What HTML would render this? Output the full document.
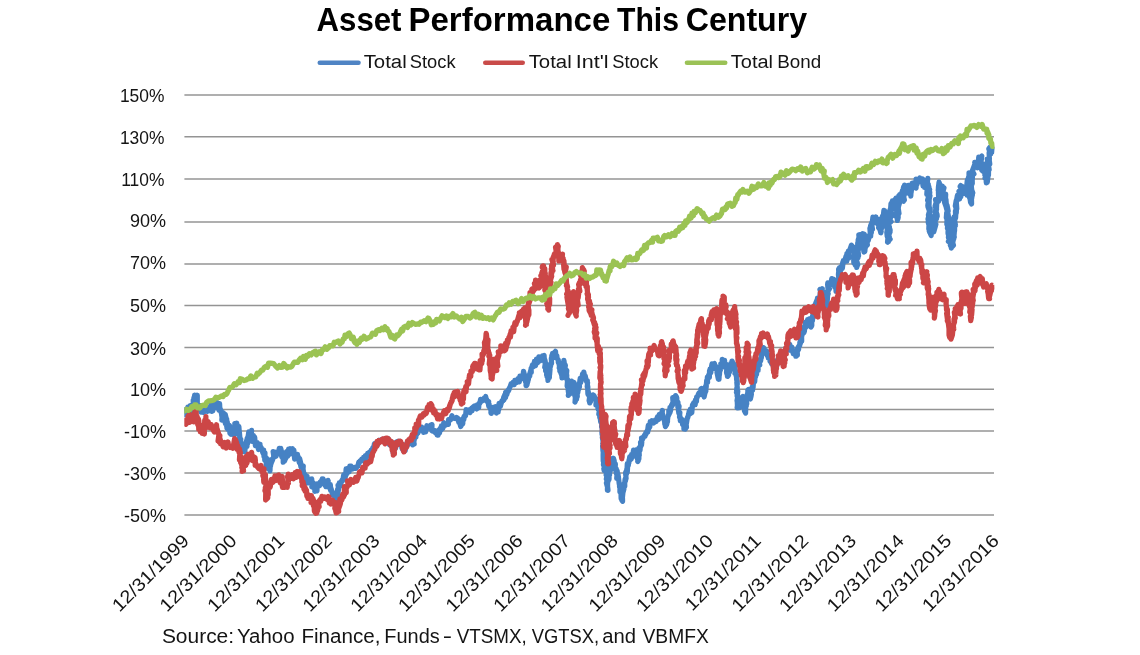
<!DOCTYPE html>
<html lang="en"><head><meta charset="utf-8"><title>Asset Performance This Century</title>
<style>html,body{margin:0;padding:0;background:#fff}body{width:1140px;height:655px;overflow:hidden}svg{display:block}text{font-family:"Liberation Sans",Arial,sans-serif}</style></head><body>
<svg width="1140" height="655" viewBox="0 0 1140 655">
<rect width="1140" height="655" fill="#fff"/>
<g stroke="#949494" stroke-width="1.5" fill="none">
<line x1="184.4" x2="994.0" y1="94.9" y2="94.9"/>
<line x1="184.4" x2="994.0" y1="136.8" y2="136.8"/>
<line x1="184.4" x2="994.0" y1="178.9" y2="178.9"/>
<line x1="184.4" x2="994.0" y1="221.9" y2="221.9"/>
<line x1="184.4" x2="994.0" y1="263.9" y2="263.9"/>
<line x1="184.4" x2="994.0" y1="305.6" y2="305.6"/>
<line x1="184.4" x2="994.0" y1="347.5" y2="347.5"/>
<line x1="184.4" x2="994.0" y1="389.3" y2="389.3"/>
<line x1="184.4" x2="994.0" y1="431.0" y2="431.0"/>
<line x1="184.4" x2="994.0" y1="473.0" y2="473.0"/>
<line x1="184.4" x2="994.0" y1="514.9" y2="514.9"/>
<line x1="184.4" x2="994.0" y1="409.6" y2="409.6"/>
</g>
<g font-size="18.4" text-anchor="end" fill="#141414">
<text transform="translate(164.4 101.5) scale(0.945 1)">150%</text>
<text transform="translate(164.4 144.2) scale(0.945 1)">130%</text>
<text transform="translate(164.4 185.5) scale(0.945 1)">110%</text>
<text transform="translate(166.0 227.3) scale(0.979 1)">90%</text>
<text transform="translate(166.0 269.3) scale(0.979 1)">70%</text>
<text transform="translate(166.0 311.9) scale(0.979 1)">50%</text>
<text transform="translate(166.0 354.7) scale(0.979 1)">30%</text>
<text transform="translate(166.0 396.3) scale(0.979 1)">10%</text>
<text transform="translate(166.0 438.4) scale(0.979 1)">-10%</text>
<text transform="translate(166.0 479.8) scale(0.979 1)">-30%</text>
<text transform="translate(166.0 521.7) scale(0.979 1)">-50%</text>
</g>
<g font-size="18.2" text-anchor="end" fill="#141414">
<text transform="translate(190.2 542) rotate(-45) scale(1.098 1)">12/31/1999</text>
<text transform="translate(237.8 542) rotate(-45) scale(1.098 1)">12/31/2000</text>
<text transform="translate(285.5 542) rotate(-45) scale(1.098 1)">12/31/2001</text>
<text transform="translate(333.1 542) rotate(-45) scale(1.098 1)">12/31/2002</text>
<text transform="translate(380.8 542) rotate(-45) scale(1.098 1)">12/31/2003</text>
<text transform="translate(428.4 542) rotate(-45) scale(1.098 1)">12/31/2004</text>
<text transform="translate(476.1 542) rotate(-45) scale(1.098 1)">12/31/2005</text>
<text transform="translate(523.8 542) rotate(-45) scale(1.098 1)">12/31/2006</text>
<text transform="translate(571.4 542) rotate(-45) scale(1.098 1)">12/31/2007</text>
<text transform="translate(619.0 542) rotate(-45) scale(1.098 1)">12/31/2008</text>
<text transform="translate(666.7 542) rotate(-45) scale(1.098 1)">12/31/2009</text>
<text transform="translate(714.3 542) rotate(-45) scale(1.098 1)">12/31/2010</text>
<text transform="translate(762.0 542) rotate(-45) scale(1.098 1)">12/31/2011</text>
<text transform="translate(809.6 542) rotate(-45) scale(1.098 1)">12/31/2012</text>
<text transform="translate(857.3 542) rotate(-45) scale(1.098 1)">12/31/2013</text>
<text transform="translate(905.0 542) rotate(-45) scale(1.098 1)">12/31/2014</text>
<text transform="translate(952.6 542) rotate(-45) scale(1.098 1)">12/31/2015</text>
<text transform="translate(1000.2 542) rotate(-45) scale(1.098 1)">12/31/2016</text>
</g>
<defs><clipPath id="plot"><rect x="184.3" y="70" width="810.2" height="460"/></clipPath></defs>
<g clip-path="url(#plot)">
<path d="M183.2 412.4 L184.4 414.7 L185.6 409.5 L186.7 414.0 L187.8 407.2 L189.1 411.3 L190.5 412.5 L190.2 405.6 L190.9 409.4 L191.7 406.4 L193.5 404.0 L193.2 408.7 L193.2 400.3 L194.6 408.4 L193.9 397.6 L195.3 402.9 L195.0 401.9 L194.6 395.2 L196.1 401.2 L197.3 395.2 L197.3 405.4 L196.4 402.0 L198.2 408.5 L197.6 407.4 L198.7 407.8 L200.1 405.4 L200.9 412.1 L201.3 412.1 L202.5 406.5 L203.6 412.5 L205.5 407.9 L206.6 408.8 L207.3 411.4 L208.6 407.5 L210.0 410.7 L211.1 403.3 L211.6 411.4 L212.7 410.9 L214.6 404.5 L215.5 407.3 L215.5 401.6 L217.2 405.9 L217.1 402.5 L218.9 410.1 L219.6 403.7 L219.8 407.5 L221.0 412.3 L221.0 410.4 L221.5 414.0 L222.0 417.4 L221.8 420.2 L223.3 412.7 L222.2 418.8 L223.3 420.2 L225.3 414.5 L226.1 419.3 L224.8 415.4 L225.3 423.7 L225.8 416.2 L226.7 426.6 L226.7 419.1 L226.9 427.9 L227.1 422.3 L227.3 422.0 L227.8 429.3 L229.5 425.3 L229.9 433.4 L230.8 431.8 L231.0 434.4 L232.7 429.8 L233.5 430.8 L233.4 427.3 L234.3 435.3 L235.1 428.0 L234.8 432.8 L234.8 423.6 L236.6 427.8 L236.8 423.2 L237.3 429.8 L237.1 427.7 L237.1 433.7 L238.9 426.6 L239.4 433.6 L239.4 432.0 L240.0 439.1 L239.0 439.3 L240.8 439.3 L239.9 442.2 L239.6 436.8 L240.8 444.8 L241.2 444.0 L241.8 447.2 L241.7 447.1 L242.2 444.3 L243.4 450.9 L244.0 443.9 L243.3 451.7 L245.1 446.8 L244.8 451.6 L245.7 443.3 L246.1 441.5 L247.0 446.4 L247.1 438.7 L247.7 443.3 L247.4 438.5 L247.9 436.6 L247.7 439.3 L248.6 433.2 L248.8 432.0 L250.5 432.4 L250.4 435.8 L251.6 430.3 L251.4 433.6 L252.0 441.4 L253.5 435.6 L254.5 441.8 L254.7 437.1 L255.4 445.7 L257.1 446.1 L257.2 442.6 L258.5 449.5 L260.0 444.3 L259.8 445.1 L261.9 450.0 L261.1 447.4 L263.0 453.2 L263.7 450.0 L264.0 456.8 L264.2 455.9 L265.0 452.9 L264.7 460.2 L265.1 459.6 L265.7 461.3 L266.6 458.4 L266.4 457.9 L266.2 466.5 L266.7 461.9 L268.1 468.6 L267.2 461.8 L269.1 462.6 L269.8 466.0 L270.0 471.0 L270.2 464.5 L270.6 465.7 L270.0 467.4 L271.1 459.5 L270.8 464.3 L272.1 460.7 L272.0 461.3 L273.8 456.3 L273.1 451.5 L274.3 456.3 L274.9 452.1 L276.1 456.3 L277.4 452.3 L278.3 453.2 L279.3 448.4 L281.2 450.3 L280.8 448.5 L281.7 456.6 L281.7 451.8 L282.3 457.6 L283.3 452.9 L283.2 462.2 L284.2 457.1 L284.5 461.2 L285.3 459.0 L285.8 458.3 L286.7 451.6 L287.7 456.2 L288.6 449.2 L289.8 454.3 L290.0 448.7 L291.3 451.2 L292.4 448.7 L292.9 453.0 L293.9 450.3 L294.6 459.1 L295.6 454.8 L297.3 456.7 L297.5 454.3 L297.5 455.4 L298.8 457.9 L299.2 462.5 L299.6 458.5 L301.0 464.1 L300.5 464.8 L301.0 467.1 L301.2 465.9 L302.5 468.2 L303.3 465.9 L302.8 472.2 L303.0 468.7 L303.8 473.4 L305.2 475.2 L304.9 476.9 L305.6 478.5 L305.0 474.5 L305.0 481.0 L307.0 476.2 L306.4 477.3 L306.6 483.1 L308.2 478.7 L308.6 482.8 L310.5 481.5 L310.9 479.1 L311.7 478.9 L312.3 484.6 L311.8 486.6 L313.0 482.7 L312.4 487.2 L313.3 486.4 L315.0 485.0 L314.8 491.4 L315.2 489.6 L317.0 490.8 L317.0 483.9 L317.0 487.1 L318.4 484.2 L319.5 485.7 L320.1 482.2 L321.0 481.3 L321.0 483.5 L322.2 478.9 L322.9 482.2 L323.0 478.8 L324.7 484.9 L324.3 483.6 L325.8 486.6 L326.9 484.4 L328.1 481.1 L328.0 480.3 L328.7 487.1 L330.7 488.6 L330.3 484.5 L330.5 490.1 L331.1 488.5 L331.8 491.6 L332.6 495.2 L333.1 494.1 L333.5 493.5 L334.9 492.9 L335.0 498.6 L335.6 497.1 L336.2 499.6 L337.4 492.5 L337.9 497.6 L337.5 489.4 L337.7 494.6 L338.7 488.6 L338.0 485.3 L338.6 488.6 L339.3 482.9 L340.7 484.7 L340.7 485.7 L340.6 485.4 L341.5 481.2 L342.6 479.4 L342.4 481.0 L342.9 479.8 L343.7 474.9 L344.9 478.2 L345.4 473.6 L344.2 474.8 L345.6 476.4 L346.1 468.8 L346.8 473.9 L347.8 468.4 L349.1 471.9 L349.8 466.1 L351.0 466.2 L352.6 468.9 L353.9 467.6 L355.3 467.3 L355.8 468.4 L357.0 466.9 L357.8 466.4 L358.8 462.1 L358.8 463.9 L360.0 461.0 L361.3 460.2 L361.7 459.1 L363.2 460.8 L363.6 457.4 L365.5 459.7 L365.5 455.5 L366.8 457.2 L367.6 453.5 L368.8 455.9 L369.6 452.2 L370.3 454.4 L371.0 450.5 L371.8 451.3 L372.9 447.6 L372.7 449.5 L374.0 446.7 L374.3 444.2 L374.5 443.7 L375.6 444.7 L377.4 445.0 L378.1 443.8 L378.9 440.3 L379.7 441.5 L381.3 439.8 L382.1 441.2 L383.2 439.2 L384.4 441.6 L385.6 442.0 L386.8 438.6 L388.0 438.6 L388.5 442.6 L389.3 444.5 L389.8 440.9 L391.4 442.3 L391.1 443.9 L391.9 447.1 L391.5 446.0 L392.4 447.7 L393.2 451.1 L392.8 448.6 L393.2 453.0 L393.6 451.8 L393.9 447.9 L394.0 449.8 L395.6 448.2 L395.5 444.3 L395.8 446.8 L395.6 442.4 L397.4 441.4 L399.0 441.6 L399.9 441.3 L400.4 445.0 L401.0 445.1 L401.6 444.1 L402.0 448.6 L402.4 446.5 L403.5 451.0 L404.0 449.2 L405.2 450.6 L405.8 446.5 L406.4 444.0 L407.1 446.1 L408.0 443.6 L408.7 441.6 L409.8 443.6 L411.6 442.0 L412.8 444.9 L413.3 441.0 L414.2 444.0 L413.8 442.0 L414.8 437.3 L414.8 435.7 L415.0 435.8 L415.9 437.1 L416.0 433.3 L417.0 434.1 L418.4 431.2 L418.1 432.6 L418.6 431.0 L420.0 427.1 L421.4 430.1 L421.8 427.2 L423.4 430.9 L423.6 432.4 L425.4 429.5 L425.7 431.9 L426.3 428.2 L426.9 425.7 L428.3 426.7 L429.7 428.3 L430.9 424.9 L432.0 424.6 L431.9 430.7 L433.2 431.2 L434.3 430.5 L435.3 432.6 L436.1 431.7 L437.0 434.8 L438.1 433.4 L438.1 435.2 L438.6 430.0 L439.5 433.0 L440.3 428.3 L441.2 429.9 L441.4 425.9 L442.6 428.7 L443.6 426.5 L443.7 422.7 L445.5 425.2 L447.0 423.9 L448.4 424.4 L448.5 419.6 L449.9 419.2 L450.6 419.7 L452.0 415.6 L452.6 417.8 L454.6 418.4 L456.1 418.6 L456.7 417.5 L458.3 418.8 L458.7 422.3 L459.7 421.5 L460.6 424.2 L459.9 423.5 L460.7 426.5 L461.9 424.3 L461.5 422.6 L461.5 423.5 L462.8 423.7 L462.9 418.8 L463.8 419.7 L464.3 416.1 L463.9 416.9 L464.6 416.6 L465.6 415.6 L466.1 409.7 L467.3 412.4 L468.6 410.1 L470.1 412.5 L470.5 411.6 L471.7 408.1 L472.1 410.6 L472.8 407.3 L474.6 405.9 L475.8 408.0 L476.6 409.0 L477.3 405.0 L478.7 407.6 L478.9 403.6 L479.8 403.6 L480.6 399.3 L481.5 401.3 L482.6 400.6 L484.0 398.3 L484.8 399.3 L485.7 396.5 L486.2 400.3 L486.5 399.1 L487.7 402.5 L488.6 401.4 L488.1 402.1 L488.8 406.4 L489.1 403.8 L489.2 405.7 L490.7 409.7 L491.1 408.5 L490.9 412.8 L491.4 411.5 L491.4 413.3 L491.8 411.7 L492.5 410.3 L493.1 408.5 L493.0 409.9 L493.0 407.3 L494.0 407.8 L495.3 406.7 L495.4 410.8 L496.6 409.4 L496.5 413.1 L498.1 409.8 L498.2 411.9 L498.2 406.9 L498.8 409.6 L499.0 403.4 L499.8 404.1 L500.4 406.2 L501.2 403.4 L502.1 400.6 L503.2 400.6 L503.7 397.1 L504.0 399.9 L504.6 395.0 L505.6 397.5 L505.6 392.4 L506.8 394.7 L507.8 390.3 L507.9 391.8 L509.0 389.7 L509.2 388.3 L510.0 387.0 L511.2 383.6 L512.4 384.7 L513.0 382.3 L514.2 384.6 L514.8 380.3 L516.7 382.3 L518.0 378.7 L519.3 381.9 L519.9 376.1 L520.8 376.6 L522.3 376.5 L522.7 378.5 L523.1 375.7 L523.5 371.3 L524.9 376.4 L523.9 377.0 L525.5 375.9 L525.4 380.0 L525.0 378.3 L525.6 382.1 L526.3 379.7 L526.0 385.6 L527.2 383.7 L527.0 384.7 L526.6 385.4 L527.8 381.6 L527.9 380.9 L527.6 379.2 L528.2 380.2 L528.8 377.4 L529.6 374.1 L529.8 374.0 L529.8 375.8 L529.7 374.0 L531.1 369.3 L531.3 372.4 L531.1 368.3 L531.8 367.4 L532.5 364.8 L533.6 366.6 L534.1 365.9 L534.4 361.4 L535.5 365.7 L536.5 360.9 L536.5 359.2 L537.6 362.8 L538.1 360.0 L538.8 356.8 L540.2 360.9 L541.4 358.2 L541.3 360.2 L542.5 355.8 L542.5 357.8 L543.0 356.3 L544.1 355.4 L544.4 360.4 L543.9 357.2 L544.6 361.9 L544.8 359.5 L545.2 361.3 L545.4 362.7 L544.7 367.3 L545.7 366.5 L545.6 370.9 L545.8 371.4 L546.8 369.4 L546.6 375.1 L547.0 371.7 L547.0 376.3 L547.3 374.7 L547.6 376.1 L548.0 380.4 L548.0 380.5 L548.3 374.1 L549.4 377.8 L549.4 375.6 L549.6 374.6 L550.1 368.8 L549.9 370.6 L549.8 367.4 L549.7 369.0 L549.7 364.6 L550.5 366.5 L551.3 362.2 L551.6 363.3 L551.3 358.2 L551.7 358.5 L551.8 355.3 L553.2 358.0 L552.6 353.3 L553.7 357.3 L553.6 354.2 L555.5 351.3 L555.9 356.6 L556.8 355.6 L557.1 358.4 L558.3 360.1 L558.3 362.6 L558.2 360.2 L559.1 364.7 L559.1 362.2 L559.7 364.2 L559.2 368.1 L560.4 366.2 L559.8 371.0 L560.2 369.1 L560.9 373.3 L561.0 370.7 L561.5 375.0 L561.7 374.0 L562.0 378.0 L562.3 374.3 L561.7 373.3 L562.2 375.8 L562.8 370.2 L562.3 369.9 L562.4 371.8 L562.1 365.5 L562.7 369.1 L563.3 364.1 L563.9 366.6 L563.9 360.4 L564.3 363.2 L564.0 362.5 L563.5 366.8 L565.0 366.7 L565.4 365.3 L564.9 369.3 L565.0 367.3 L566.2 372.9 L565.5 371.3 L566.8 370.4 L566.3 376.0 L566.8 375.0 L566.6 378.9 L566.9 379.3 L567.4 381.0 L567.6 379.5 L567.5 380.7 L567.1 386.2 L567.7 385.9 L567.4 384.8 L568.8 390.2 L568.0 388.0 L568.4 392.3 L568.9 392.0 L568.3 395.5 L569.6 393.6 L569.9 393.9 L569.8 392.7 L570.0 387.5 L570.0 390.3 L570.1 386.0 L570.7 387.4 L571.0 383.3 L570.7 383.9 L571.5 381.1 L572.4 384.0 L573.1 385.1 L574.0 382.4 L574.6 386.4 L574.3 385.3 L574.5 390.4 L574.7 387.8 L574.2 392.7 L575.0 391.5 L574.9 392.3 L575.2 397.2 L574.4 394.0 L575.5 394.8 L575.1 400.9 L576.1 399.0 L575.0 402.0 L576.5 397.8 L575.5 396.0 L576.6 399.2 L576.1 392.8 L577.3 396.7 L577.1 391.6 L577.8 392.6 L578.2 389.7 L577.5 387.9 L578.9 388.8 L578.3 384.6 L579.5 387.0 L579.3 383.3 L579.5 383.5 L580.0 379.5 L580.7 382.7 L580.2 378.3 L580.8 378.9 L581.9 377.8 L582.6 373.8 L583.4 376.8 L583.8 372.0 L584.7 376.4 L585.2 377.7 L585.4 376.1 L585.6 380.4 L585.6 377.7 L586.9 382.2 L587.3 380.8 L586.9 380.8 L587.6 382.6 L587.2 386.7 L587.4 384.7 L587.9 387.2 L587.8 387.6 L587.7 389.0 L587.9 394.2 L588.2 391.2 L589.2 396.6 L589.4 395.1 L589.8 398.1 L589.7 396.6 L589.1 400.7 L589.3 399.9 L589.7 403.0 L591.1 399.3 L590.6 401.6 L592.2 396.0 L592.2 398.2 L593.0 394.9 L594.0 398.6 L594.0 395.7 L594.8 397.3 L596.4 399.2 L595.9 405.0 L597.4 401.6 L596.6 405.0 L597.2 402.8 L598.0 408.9 L598.6 408.6 L598.5 407.3 L599.6 408.7 L598.8 414.2 L600.0 411.0 L599.5 413.2 L599.8 417.8 L601.3 414.1 L600.5 420.6 L600.4 417.5 L600.6 422.0 L600.9 421.6 L602.2 420.1 L601.8 421.8 L601.6 427.2 L601.7 426.7 L602.3 425.4 L602.9 431.5 L602.2 428.6 L602.1 434.8 L601.9 432.2 L602.9 434.2 L602.9 434.7 L603.0 439.3 L602.3 437.3 L603.1 441.8 L602.7 443.5 L603.6 440.6 L603.5 447.3 L603.3 447.7 L602.6 445.8 L602.9 450.3 L603.0 451.3 L603.3 449.7 L603.1 455.2 L603.8 453.3 L604.2 456.1 L603.1 455.5 L603.2 461.0 L603.2 458.4 L603.7 461.8 L603.4 464.9 L604.6 461.6 L604.7 465.9 L604.8 464.9 L604.8 468.7 L604.2 470.6 L603.8 468.8 L604.4 469.3 L606.0 468.9 L605.8 465.0 L605.7 465.3 L606.0 471.6 L606.6 467.2 L606.9 474.1 L607.0 470.1 L606.1 474.9 L606.9 476.3 L606.3 479.0 L607.3 476.1 L607.0 477.8 L606.8 478.4 L607.0 483.8 L607.0 480.4 L607.2 486.2 L606.4 483.0 L607.5 484.4 L607.4 490.0 L607.6 489.1 L608.0 490.3 L607.8 488.3 L607.6 487.1 L607.6 481.6 L607.6 483.7 L608.0 479.8 L608.2 481.3 L608.1 477.0 L609.0 479.6 L609.1 477.8 L608.9 474.1 L609.6 474.9 L609.0 470.8 L609.5 473.9 L610.5 469.0 L610.9 466.2 L611.0 469.7 L610.6 464.6 L611.1 467.2 L611.9 460.4 L612.4 460.6 L612.9 463.6 L612.6 458.4 L613.3 459.5 L613.5 458.3 L614.6 463.7 L613.9 459.7 L614.2 460.9 L614.7 466.7 L615.4 464.1 L615.1 468.1 L615.4 469.9 L616.3 468.8 L616.1 472.7 L616.9 474.9 L617.3 471.1 L616.7 478.4 L618.0 474.1 L618.6 478.8 L618.4 476.7 L619.1 482.9 L619.2 483.9 L619.5 484.0 L619.5 486.5 L620.4 485.1 L620.7 488.9 L620.0 487.0 L619.9 491.8 L620.7 488.4 L621.3 495.2 L621.6 491.2 L621.0 493.1 L621.1 498.5 L621.7 495.4 L621.9 500.3 L622.6 501.3 L622.5 498.0 L622.3 499.0 L622.4 498.0 L622.9 492.9 L622.4 494.2 L622.4 491.6 L623.2 491.8 L623.9 489.1 L623.4 490.2 L623.5 484.3 L624.0 485.4 L624.8 486.3 L624.7 482.2 L624.6 483.6 L625.1 479.0 L625.5 481.0 L625.9 476.4 L626.1 478.5 L625.6 472.4 L625.7 475.1 L626.5 470.4 L626.7 473.8 L626.8 469.1 L627.3 472.1 L627.6 467.2 L627.1 467.7 L627.3 463.6 L628.1 465.5 L628.3 465.4 L629.1 459.6 L628.9 462.8 L629.7 456.8 L630.4 459.7 L631.3 458.8 L631.5 454.7 L632.4 457.0 L632.8 455.3 L633.5 450.0 L634.8 454.2 L636.1 449.8 L636.5 453.6 L635.9 452.2 L636.8 457.4 L637.4 454.3 L637.6 458.7 L636.8 457.2 L638.2 460.9 L637.7 461.5 L638.5 458.3 L638.9 459.0 L638.9 455.7 L638.4 456.8 L638.9 453.1 L639.3 455.4 L638.9 448.1 L640.1 447.9 L639.6 447.1 L640.1 450.1 L640.3 445.5 L640.9 446.2 L640.5 442.3 L641.5 445.2 L641.8 442.3 L641.5 437.9 L642.7 437.6 L642.5 439.3 L643.4 437.4 L644.7 434.8 L645.0 436.3 L645.8 432.8 L646.1 434.1 L647.0 431.0 L647.7 432.1 L647.5 431.3 L648.3 425.3 L648.6 429.6 L649.0 425.1 L649.8 427.0 L650.2 421.6 L650.7 423.2 L651.8 420.7 L653.6 422.9 L655.1 420.3 L656.1 421.5 L657.4 417.0 L657.7 418.9 L658.6 419.4 L659.2 414.5 L660.4 417.5 L660.3 413.8 L661.1 414.1 L661.9 412.4 L662.4 410.4 L662.1 415.2 L662.6 413.9 L662.8 417.4 L663.1 416.9 L663.3 417.8 L663.9 419.4 L664.7 421.8 L664.5 420.3 L664.8 424.4 L666.2 425.4 L665.4 426.6 L666.7 423.7 L666.8 424.5 L667.0 419.9 L666.9 419.8 L667.5 422.0 L667.5 421.3 L667.5 419.9 L668.1 415.4 L669.4 413.0 L668.8 414.9 L668.8 410.5 L669.8 413.1 L670.8 409.8 L670.0 407.5 L670.4 409.4 L671.6 405.0 L671.2 406.9 L672.5 405.2 L672.4 403.3 L673.2 403.9 L672.7 397.7 L673.3 401.1 L674.6 398.4 L674.0 397.5 L675.6 396.4 L675.6 395.5 L676.1 396.4 L676.4 396.6 L676.8 398.0 L676.8 402.9 L676.8 400.8 L678.0 402.4 L677.8 407.2 L678.5 405.0 L678.4 408.6 L679.1 406.3 L678.4 411.0 L678.4 408.9 L678.8 413.3 L678.8 411.5 L679.9 412.6 L679.5 417.0 L679.8 415.6 L680.3 420.8 L681.2 418.6 L682.3 421.2 L682.4 419.8 L682.6 424.6 L683.3 425.0 L683.9 423.8 L683.9 428.8 L685.1 428.7 L685.3 429.1 L684.7 425.0 L685.5 428.4 L686.5 427.3 L686.0 422.4 L686.4 423.7 L687.1 419.4 L687.2 418.8 L687.3 417.8 L688.0 416.4 L687.7 417.8 L688.7 413.9 L689.2 411.1 L689.1 413.0 L690.2 411.0 L690.6 413.6 L690.6 411.2 L690.4 409.2 L691.8 412.7 L692.2 407.9 L691.9 410.2 L692.5 404.9 L692.7 406.2 L693.6 402.9 L694.3 404.3 L695.2 404.6 L695.4 400.0 L696.5 401.4 L696.6 397.2 L696.6 398.7 L698.0 395.1 L698.3 394.3 L698.9 393.0 L700.2 394.5 L700.9 391.3 L700.8 389.0 L701.5 388.4 L702.6 393.2 L702.4 394.5 L703.1 395.1 L703.8 395.7 L704.1 397.0 L704.8 393.8 L705.4 392.0 L704.4 393.3 L705.3 388.5 L705.9 391.2 L705.5 386.3 L706.3 386.6 L705.9 388.8 L706.3 385.7 L706.2 386.0 L706.7 380.3 L706.6 381.9 L707.6 382.4 L707.3 377.0 L707.6 380.0 L708.7 374.9 L709.4 377.4 L709.5 370.9 L709.6 373.9 L710.0 369.2 L710.8 372.8 L711.2 367.8 L711.1 368.7 L712.0 363.9 L712.4 366.5 L713.0 364.8 L714.5 363.6 L714.8 368.6 L715.5 365.9 L716.6 368.3 L716.5 367.1 L717.1 371.4 L717.4 374.0 L717.3 371.2 L717.5 374.7 L717.0 372.6 L718.3 379.0 L718.0 375.4 L718.4 378.6 L718.6 376.9 L719.0 379.3 L719.3 373.3 L719.1 376.3 L719.5 374.5 L719.8 369.5 L719.1 372.9 L720.4 370.0 L720.0 368.7 L720.8 365.1 L721.3 367.2 L720.8 363.8 L721.4 366.0 L722.4 364.8 L722.2 359.4 L723.2 360.9 L723.9 360.2 L724.6 360.3 L724.7 366.5 L724.4 364.1 L725.1 366.7 L726.3 364.3 L725.6 367.7 L726.9 366.9 L726.5 372.5 L727.1 374.5 L727.6 371.8 L727.4 376.5 L728.5 375.2 L728.2 375.4 L728.7 372.9 L728.6 369.4 L729.3 372.4 L730.5 369.7 L729.9 370.0 L730.5 367.8 L730.7 363.5 L732.0 365.8 L732.0 361.0 L732.9 362.8 L732.6 362.3 L733.2 366.8 L734.7 364.6 L735.2 368.1 L734.9 370.0 L734.8 368.6 L735.7 372.6 L735.0 373.5 L736.3 371.5 L736.1 375.9 L736.7 374.9 L736.3 375.9 L737.0 380.5 L736.5 378.9 L737.2 382.7 L737.2 381.2 L737.3 384.4 L736.8 382.4 L737.3 388.0 L736.9 389.8 L736.9 387.4 L736.4 392.4 L737.1 389.1 L737.0 394.3 L737.8 391.3 L737.1 396.1 L737.3 393.8 L737.8 396.3 L737.0 400.8 L737.7 401.9 L737.9 399.2 L737.2 400.9 L737.4 405.5 L737.1 407.8 L737.8 407.8 L739.3 407.7 L739.9 406.2 L739.8 404.8 L740.6 401.4 L741.6 403.2 L741.8 397.9 L741.6 400.2 L741.8 398.9 L742.9 396.4 L742.3 401.4 L743.2 404.2 L742.6 404.3 L742.8 403.4 L743.8 403.0 L744.0 408.1 L744.0 407.2 L745.0 410.6 L745.1 408.0 L744.4 410.8 L745.6 413.1 L745.7 407.6 L744.9 405.6 L745.6 407.3 L745.8 402.8 L746.3 406.1 L745.6 401.2 L746.8 403.9 L746.4 399.2 L746.2 396.6 L746.6 398.0 L747.1 395.2 L747.7 392.9 L747.9 394.4 L747.8 390.3 L748.5 392.6 L749.1 390.5 L748.4 389.4 L748.5 395.5 L749.3 392.5 L749.7 393.4 L749.7 398.1 L750.4 399.0 L751.4 394.3 L750.9 396.9 L751.0 393.4 L751.2 395.4 L751.5 389.2 L752.1 389.3 L752.1 387.1 L752.6 390.2 L752.6 387.2 L753.1 387.5 L753.5 381.8 L753.4 382.9 L754.3 379.8 L754.7 381.8 L755.0 377.9 L755.4 374.9 L755.5 377.1 L756.3 373.1 L756.6 372.1 L756.6 374.0 L756.4 372.3 L757.2 371.1 L757.9 366.2 L758.2 370.4 L757.6 365.3 L758.0 365.7 L758.2 361.3 L759.8 365.1 L759.6 363.8 L759.4 359.5 L760.7 360.8 L761.1 356.9 L761.4 358.0 L761.4 353.7 L761.9 355.5 L762.2 350.5 L763.3 352.4 L763.6 347.6 L765.1 350.6 L765.9 353.2 L766.6 351.0 L766.9 352.9 L767.6 356.2 L768.5 354.5 L768.3 358.0 L769.8 357.1 L770.0 361.4 L770.5 359.8 L771.4 358.5 L771.5 363.4 L773.1 362.8 L773.5 367.5 L773.6 364.8 L774.5 365.3 L774.6 370.6 L774.6 371.4 L775.8 367.8 L775.9 368.3 L776.5 364.4 L776.7 366.5 L776.6 365.3 L777.0 360.7 L778.5 362.6 L779.2 358.7 L779.8 361.3 L779.6 357.6 L780.8 357.3 L781.5 358.9 L782.1 356.5 L783.0 357.4 L782.9 352.8 L784.4 355.1 L784.7 354.3 L785.7 348.4 L785.8 351.2 L787.0 349.7 L787.9 344.9 L789.3 350.0 L789.8 344.4 L790.4 349.3 L791.7 350.7 L791.9 347.0 L792.1 349.8 L793.3 353.6 L793.6 350.9 L795.0 351.4 L795.8 356.2 L796.4 356.1 L796.9 352.4 L796.5 355.4 L797.4 355.1 L797.2 348.9 L798.6 349.4 L797.7 350.6 L799.3 345.5 L798.3 347.0 L799.8 345.5 L799.8 342.4 L800.6 341.5 L800.5 343.3 L800.4 338.1 L801.7 341.2 L801.6 335.5 L801.6 336.9 L802.4 333.6 L803.0 332.1 L802.7 331.4 L803.9 332.6 L804.0 327.0 L804.4 331.6 L804.8 326.0 L805.6 327.7 L805.0 322.4 L806.5 323.4 L806.9 324.9 L807.6 319.5 L807.8 322.0 L809.5 320.2 L809.3 318.8 L809.3 323.3 L810.3 323.3 L810.9 324.7 L810.5 326.9 L811.0 327.1 L811.2 322.5 L811.8 325.8 L811.8 324.2 L811.6 318.6 L812.4 321.0 L813.0 315.6 L813.2 313.6 L812.2 317.5 L813.3 313.7 L813.3 315.0 L813.9 309.0 L814.2 312.4 L814.8 308.2 L814.8 309.5 L814.8 305.0 L814.7 306.3 L816.0 302.4 L817.4 299.1 L818.0 301.3 L817.2 302.9 L817.5 298.0 L818.3 302.1 L819.4 299.9 L820.3 295.1 L819.7 297.7 L820.6 290.0 L819.9 289.5 L821.2 292.7 L822.3 288.7 L821.5 294.0 L822.7 291.1 L822.6 296.2 L824.3 292.8 L822.9 300.7 L824.2 296.9 L824.5 301.8 L826.2 296.1 L826.7 305.4 L827.0 306.0 L825.0 303.6 L824.7 303.4 L826.3 302.5 L827.6 296.3 L827.2 301.8 L826.8 296.0 L827.0 297.6 L828.2 293.7 L826.2 295.4 L827.7 290.9 L828.4 288.2 L829.5 288.8 L828.2 290.7 L827.6 284.6 L827.8 282.8 L828.6 283.6 L829.7 285.5 L831.7 281.6 L830.7 284.3 L831.8 278.6 L832.7 281.4 L833.5 279.2 L833.3 284.5 L833.0 281.3 L834.7 287.1 L834.5 283.9 L835.9 283.2 L836.0 291.2 L836.1 288.3 L836.9 286.2 L835.6 285.5 L837.0 289.0 L836.8 282.4 L836.1 284.5 L836.9 280.1 L837.6 284.1 L836.2 280.5 L838.9 279.1 L838.4 274.6 L838.6 272.3 L838.8 273.6 L838.6 269.3 L839.3 268.0 L839.0 271.5 L840.3 271.9 L841.4 266.6 L841.5 269.2 L842.8 262.1 L842.4 268.2 L843.2 261.8 L843.3 260.6 L842.8 263.9 L845.1 259.4 L844.6 260.9 L846.1 256.0 L846.8 261.1 L846.9 253.7 L848.6 258.4 L848.4 251.0 L848.4 252.8 L848.8 252.8 L851.2 245.8 L852.2 250.8 L853.1 248.3 L851.5 245.1 L854.0 250.5 L852.3 248.5 L854.6 253.3 L853.8 251.1 L854.6 252.4 L854.4 259.6 L855.4 252.6 L853.6 255.3 L853.8 262.8 L854.5 263.3 L855.3 265.1 L855.7 261.5 L856.9 266.7 L857.4 264.9 L855.8 261.9 L856.7 267.5 L855.9 260.2 L857.8 264.8 L857.3 262.9 L856.3 259.7 L855.8 254.8 L857.8 258.1 L856.8 256.5 L857.8 248.7 L858.6 255.8 L856.1 248.0 L857.9 251.4 L856.4 246.8 L858.8 249.1 L858.4 242.1 L857.7 243.1 L857.7 247.1 L858.2 239.5 L859.5 242.5 L858.8 234.8 L860.2 234.7 L858.7 238.3 L861.2 237.2 L862.6 233.7 L864.2 234.3 L864.6 239.6 L864.1 238.3 L863.7 244.9 L863.0 240.2 L865.3 241.1 L865.3 247.3 L863.2 245.2 L863.9 252.1 L865.8 245.5 L864.5 251.7 L864.1 247.5 L864.9 251.1 L865.1 242.4 L864.7 247.1 L867.4 245.0 L866.6 239.6 L866.6 244.6 L867.4 241.7 L866.8 236.2 L868.3 240.4 L869.4 235.6 L870.7 234.3 L870.7 236.0 L869.9 228.2 L870.4 235.2 L871.4 232.3 L871.6 225.0 L872.5 229.2 L871.5 223.3 L870.9 227.6 L870.6 225.7 L873.0 219.7 L872.3 222.8 L872.9 217.1 L873.5 220.7 L875.4 218.8 L875.9 217.0 L876.1 223.0 L876.7 218.7 L877.4 223.5 L879.4 226.8 L877.8 221.1 L880.2 222.4 L880.5 229.4 L878.6 227.8 L881.2 231.3 L880.8 232.8 L879.0 225.4 L882.0 227.8 L881.6 223.7 L879.9 219.3 L882.5 226.4 L882.3 217.7 L882.5 216.0 L881.9 219.4 L883.4 214.9 L883.0 218.8 L883.9 210.3 L885.3 214.7 L884.7 210.9 L885.2 220.6 L886.7 220.5 L886.2 221.7 L885.8 218.7 L886.2 220.3 L887.2 224.4 L888.1 222.4 L888.6 226.7 L887.1 226.0 L887.3 231.3 L888.4 232.4 L888.1 229.3 L888.4 235.2 L887.1 230.3 L887.2 236.4 L886.8 232.1 L888.5 241.7 L889.3 236.5 L887.9 241.3 L887.5 242.2 L888.0 236.8 L889.7 239.6 L890.1 239.2 L888.7 238.1 L888.8 229.9 L890.2 229.9 L887.8 229.5 L890.1 231.8 L889.4 233.7 L889.4 226.6 L889.7 230.5 L888.3 223.6 L891.1 221.5 L888.7 223.7 L889.1 219.9 L889.7 221.6 L890.7 216.5 L891.3 215.1 L890.1 217.2 L889.8 210.0 L890.9 216.1 L891.0 212.6 L891.6 213.8 L890.4 211.2 L891.0 203.5 L891.2 208.5 L892.4 200.8 L894.3 203.7 L893.8 204.4 L893.6 204.4 L893.7 201.0 L894.2 205.1 L895.9 198.2 L895.1 200.6 L896.4 208.2 L895.5 207.8 L894.5 209.2 L895.6 207.5 L896.6 211.2 L897.1 209.3 L896.5 211.8 L895.4 216.1 L897.2 212.5 L897.3 220.5 L898.0 216.0 L897.8 219.3 L898.2 217.4 L898.0 210.9 L898.0 216.5 L898.1 207.1 L899.0 213.4 L897.8 206.8 L898.3 205.5 L898.4 207.4 L898.1 207.6 L899.7 202.5 L898.8 203.8 L898.5 197.8 L898.5 204.7 L899.7 194.5 L898.0 202.1 L900.3 197.1 L898.8 195.8 L899.6 202.5 L900.1 195.2 L901.4 199.4 L903.5 201.2 L901.6 193.1 L904.4 200.1 L902.4 190.8 L904.1 195.5 L903.1 189.9 L903.5 187.2 L904.6 191.4 L904.6 185.0 L907.1 192.9 L908.3 185.4 L908.3 186.9 L909.2 191.9 L908.5 191.5 L909.9 186.2 L910.5 187.7 L909.9 194.0 L911.2 192.5 L910.6 189.3 L910.8 196.2 L911.0 192.7 L912.3 185.8 L910.0 189.0 L912.1 183.4 L912.9 183.1 L912.1 183.3 L912.6 186.4 L914.6 182.9 L915.4 187.0 L916.1 188.1 L916.1 179.0 L916.9 184.6 L917.8 180.9 L919.8 178.0 L920.8 181.8 L922.8 179.0 L923.0 186.0 L923.1 182.5 L924.6 185.1 L925.2 183.2 L924.5 187.5 L926.9 183.6 L927.8 178.4 L927.0 185.4 L928.3 184.2 L928.1 191.1 L929.1 188.5 L928.8 186.5 L927.4 185.7 L926.8 194.3 L929.6 189.6 L927.2 191.4 L929.1 200.6 L929.8 192.1 L927.6 200.2 L930.0 195.7 L927.8 205.6 L928.6 199.2 L929.0 208.1 L929.2 200.5 L929.1 203.9 L927.9 206.5 L929.7 211.5 L930.2 211.9 L930.2 208.6 L928.4 215.0 L929.9 211.3 L928.0 219.1 L928.4 219.5 L928.2 222.1 L928.5 223.7 L929.8 216.7 L928.7 223.8 L929.4 218.4 L931.1 220.6 L929.1 221.3 L928.8 229.1 L929.2 226.9 L929.5 232.1 L930.2 226.5 L929.2 231.0 L931.2 235.5 L931.1 225.0 L930.5 229.5 L930.3 225.5 L931.0 227.5 L931.5 226.6 L929.9 220.3 L931.4 218.3 L932.8 223.6 L932.7 218.2 L931.8 216.9 L933.5 221.0 L933.0 217.3 L932.4 225.5 L932.9 221.6 L934.7 227.1 L934.3 222.2 L934.7 228.1 L933.8 226.5 L934.1 226.9 L933.8 231.9 L935.9 224.2 L934.2 228.5 L934.0 222.6 L935.3 226.0 L934.2 216.9 L936.4 218.9 L934.3 221.5 L934.7 215.2 L935.9 220.1 L937.0 214.1 L937.2 216.3 L935.7 209.3 L935.2 214.6 L936.6 209.0 L936.1 207.4 L936.8 202.8 L936.4 210.1 L935.1 205.9 L936.2 202.3 L935.5 199.5 L938.3 199.9 L936.1 202.2 L936.2 202.9 L938.7 201.1 L938.4 191.8 L939.3 199.6 L938.7 189.4 L939.6 194.9 L938.4 187.4 L938.7 184.9 L938.2 190.2 L939.0 182.2 L941.7 189.1 L942.2 186.0 L941.5 190.9 L944.0 187.7 L942.4 193.5 L942.4 188.8 L942.8 197.0 L943.0 192.2 L945.6 200.2 L945.4 201.1 L945.7 194.2 L944.6 200.9 L946.0 199.6 L946.5 206.7 L944.3 200.5 L946.5 207.9 L944.6 202.6 L947.4 208.4 L947.0 205.0 L948.2 211.0 L946.2 207.2 L948.0 213.7 L948.7 218.0 L946.3 217.8 L946.7 212.5 L947.0 215.7 L947.8 220.5 L947.1 218.0 L946.8 224.5 L948.9 219.7 L948.3 222.7 L947.4 228.2 L948.2 224.9 L948.0 233.1 L949.5 226.2 L948.2 234.2 L949.3 228.5 L949.1 231.8 L948.4 237.6 L950.6 231.9 L949.9 239.7 L948.4 241.5 L951.0 238.4 L950.7 237.7 L950.3 245.3 L951.2 240.5 L951.7 242.9 L951.3 248.1 L951.0 241.4 L951.9 246.9 L953.5 245.2 L951.1 237.6 L952.9 242.0 L954.1 234.8 L953.7 239.3 L954.3 232.5 L953.3 235.8 L954.3 237.1 L952.8 228.1 L954.6 230.9 L954.6 225.8 L953.6 230.5 L952.9 221.8 L953.6 229.3 L954.7 220.0 L955.5 225.5 L954.0 216.9 L953.2 221.7 L954.9 215.8 L953.9 218.9 L955.8 214.1 L955.6 218.1 L955.4 210.9 L956.3 213.0 L956.5 206.5 L955.8 207.6 L956.0 205.7 L955.9 203.6 L956.8 208.8 L956.2 200.3 L955.3 205.9 L956.0 203.9 L957.0 197.6 L956.4 201.3 L957.4 195.5 L959.4 199.1 L957.9 197.7 L959.6 191.8 L958.9 191.4 L960.8 196.8 L961.7 189.9 L960.1 186.6 L960.8 185.6 L961.5 188.1 L962.2 186.4 L963.3 192.2 L964.9 188.4 L964.9 193.4 L965.9 190.6 L967.0 195.1 L966.3 190.0 L967.7 187.7 L967.2 191.5 L966.9 186.2 L966.8 191.7 L967.3 189.8 L967.3 180.2 L966.6 187.0 L969.2 179.9 L967.1 182.3 L968.8 176.6 L969.0 180.9 L969.0 172.9 L969.5 176.7 L969.3 180.1 L970.7 173.6 L969.7 183.0 L969.9 182.4 L970.8 179.9 L971.1 184.8 L970.8 189.0 L971.2 181.8 L969.6 184.5 L970.1 191.2 L971.4 186.5 L972.1 194.8 L971.4 190.6 L971.8 198.2 L972.1 191.7 L969.7 197.9 L971.1 194.9 L970.6 202.6 L969.8 196.9 L971.6 204.0 L971.5 198.6 L970.9 200.7 L972.4 194.9 L970.5 199.7 L971.4 191.1 L971.5 197.0 L971.3 189.9 L970.7 193.8 L970.1 189.1 L972.8 192.9 L971.8 190.2 L971.1 184.5 L970.4 190.0 L971.1 188.6 L971.9 179.2 L972.3 183.6 L972.2 175.8 L971.9 182.3 L971.8 173.2 L972.4 179.1 L972.5 172.0 L971.5 176.9 L972.9 170.0 L973.8 167.0 L971.9 172.0 L974.0 174.0 L972.6 171.5 L972.7 169.9 L975.5 162.4 L974.7 162.3 L976.6 163.2 L977.7 167.8 L978.4 163.7 L978.7 157.1 L980.2 157.7 L981.8 156.1 L980.4 166.7 L980.8 161.8 L982.3 167.0 L983.0 165.0 L981.7 170.2 L983.2 171.3 L984.9 164.1 L984.1 169.4 L984.6 172.3 L986.1 167.3 L984.8 175.1 L987.1 170.3 L987.4 175.0 L985.0 178.2 L987.5 175.3 L987.3 182.3 L988.1 175.7 L986.2 182.3 L986.2 179.6 L986.4 183.0 L986.4 176.7 L987.1 180.8 L986.9 172.5 L987.1 179.4 L988.5 169.2 L987.5 169.0 L988.2 175.8 L988.5 175.0 L988.6 165.2 L988.0 170.8 L987.9 170.6 L989.2 169.7 L988.7 166.4 L987.2 159.1 L989.8 164.2 L989.0 158.0 L987.5 163.4 L988.9 162.1 L989.4 159.0 L989.1 153.0 L989.6 150.4 L990.6 154.0 L988.8 148.8 L989.7 147.5 L991.8 152.2 L992.8 146.3" fill="none" stroke="#4682c4" stroke-width="5.2" stroke-linejoin="round" stroke-linecap="butt"/>
<path d="M183.5 418.5 L184.7 420.9 L186.0 424.3 L187.3 422.4 L188.0 416.3 L189.4 422.4 L189.4 414.0 L190.9 421.6 L192.4 414.9 L193.8 421.9 L194.8 411.4 L195.9 415.4 L196.1 411.1 L196.5 419.0 L197.1 416.3 L197.6 418.2 L197.7 424.4 L198.6 419.2 L198.6 427.0 L198.9 420.7 L198.7 429.2 L200.3 429.1 L200.5 424.8 L200.3 432.0 L201.9 431.7 L202.7 428.3 L202.2 433.3 L203.4 427.2 L204.1 428.6 L204.4 434.1 L204.3 423.9 L204.4 428.8 L204.7 420.1 L205.7 428.2 L205.9 416.5 L205.8 418.4 L207.6 426.0 L208.2 421.6 L209.1 425.8 L209.9 427.9 L210.8 427.1 L211.2 424.5 L212.7 429.2 L214.3 431.9 L215.4 430.2 L216.5 424.7 L217.2 432.4 L216.1 427.8 L217.2 429.0 L217.6 430.4 L218.9 434.6 L218.0 441.0 L219.9 435.4 L219.3 442.1 L220.3 439.3 L220.5 443.8 L221.2 441.4 L223.2 446.9 L224.0 445.9 L224.9 442.4 L226.3 448.1 L228.0 441.9 L228.6 445.7 L230.3 447.5 L231.7 446.8 L232.9 448.2 L234.6 438.7 L235.7 440.1 L236.5 444.1 L235.8 447.7 L236.7 442.6 L237.0 449.4 L237.9 445.8 L239.1 452.8 L238.1 448.2 L239.6 449.0 L239.8 451.0 L239.9 455.7 L240.4 452.4 L239.4 459.9 L239.7 455.1 L241.5 457.0 L241.7 457.8 L240.6 462.6 L240.9 461.1 L242.1 466.8 L241.8 467.6 L243.1 463.0 L242.1 471.3 L243.7 467.1 L243.1 468.8 L243.6 470.7 L243.2 468.6 L244.2 459.1 L245.8 465.5 L245.6 460.8 L246.9 463.1 L246.4 456.1 L247.0 463.1 L248.3 454.2 L248.9 458.2 L250.2 459.5 L251.6 452.3 L252.2 460.6 L253.4 460.9 L253.4 456.7 L255.0 457.5 L255.4 460.1 L255.1 465.4 L256.2 464.2 L257.6 467.3 L259.2 469.0 L260.1 469.0 L261.1 465.5 L261.9 471.7 L264.0 469.8 L262.8 475.7 L264.0 468.8 L263.5 477.8 L264.6 477.6 L263.6 479.6 L263.8 482.4 L265.5 474.8 L265.1 482.4 L264.9 478.8 L265.6 478.1 L266.0 487.2 L266.4 482.9 L264.9 490.7 L266.6 484.8 L265.3 487.6 L266.3 494.4 L266.3 488.0 L266.7 494.1 L267.1 492.4 L265.6 500.0 L265.7 493.0 L265.8 496.0 L266.2 499.4 L267.8 497.8 L266.7 492.6 L267.6 494.8 L267.6 490.1 L268.3 494.9 L268.2 485.1 L268.5 488.6 L270.0 483.1 L269.9 487.5 L270.3 486.7 L271.0 481.1 L271.5 479.3 L272.9 482.3 L273.9 478.9 L274.5 480.2 L274.9 475.9 L276.0 480.5 L276.5 477.9 L278.0 475.2 L278.7 475.0 L279.3 480.1 L280.2 482.8 L281.3 478.1 L282.2 476.6 L282.7 484.7 L281.8 482.3 L282.5 487.4 L283.3 487.3 L284.3 484.7 L284.5 487.5 L286.7 483.6 L287.3 485.4 L287.2 487.5 L288.1 477.5 L288.5 483.1 L287.5 476.5 L288.6 479.9 L288.2 474.2 L290.5 478.4 L292.0 474.7 L293.5 478.8 L295.1 472.7 L296.3 477.4 L297.3 471.5 L298.1 475.6 L298.5 471.9 L299.1 471.7 L300.6 477.4 L301.2 476.9 L302.0 481.2 L301.8 481.7 L303.1 482.1 L302.2 485.8 L302.6 481.6 L303.5 483.7 L303.3 484.5 L303.9 489.2 L304.1 485.3 L305.0 491.1 L305.4 488.1 L306.0 490.6 L306.5 490.2 L306.8 496.1 L307.5 495.1 L307.9 498.5 L308.8 495.0 L310.0 498.6 L311.4 495.6 L311.0 502.5 L313.0 498.4 L313.6 500.4 L313.3 505.6 L314.7 502.8 L314.3 504.1 L314.3 510.6 L314.2 506.4 L314.5 511.4 L315.8 513.2 L315.5 511.7 L316.8 513.0 L317.7 508.1 L317.4 511.1 L317.9 509.7 L317.3 502.2 L319.2 506.9 L318.8 504.4 L319.0 501.0 L320.1 499.6 L320.7 501.3 L321.9 496.3 L322.0 498.8 L323.6 498.4 L324.8 496.9 L326.6 499.2 L328.3 496.6 L328.9 497.1 L329.3 503.1 L329.7 499.2 L331.0 504.0 L332.5 500.1 L334.3 504.8 L335.3 502.5 L334.8 508.5 L335.7 505.6 L335.6 506.1 L336.2 513.0 L335.7 511.1 L337.4 512.3 L337.7 506.5 L338.7 511.5 L337.8 503.5 L338.6 508.9 L340.2 504.4 L339.5 504.9 L339.8 499.2 L340.4 504.0 L341.0 498.6 L341.2 500.3 L342.8 495.8 L341.9 499.9 L342.6 494.3 L343.9 495.8 L343.4 497.2 L344.6 494.6 L344.1 494.6 L344.5 486.5 L346.3 492.8 L346.1 486.5 L346.7 487.8 L348.1 485.2 L347.5 480.9 L349.6 483.0 L349.5 484.8 L350.9 479.4 L351.7 480.4 L353.3 482.3 L354.9 481.1 L355.7 477.4 L356.9 481.0 L358.0 477.3 L358.2 477.6 L359.0 474.3 L359.4 472.2 L359.8 471.7 L361.4 472.5 L362.0 472.8 L362.7 467.3 L363.2 469.5 L364.6 466.4 L365.1 468.1 L365.7 462.8 L366.7 464.6 L368.1 462.4 L368.7 462.8 L370.3 460.5 L370.6 461.7 L371.2 459.5 L371.5 455.7 L372.0 455.5 L372.2 456.5 L372.6 453.1 L373.8 451.1 L374.2 450.3 L374.5 449.7 L374.8 449.4 L375.6 445.3 L375.0 448.5 L375.3 444.2 L377.0 446.0 L377.1 441.4 L378.3 443.4 L378.9 440.5 L379.8 442.4 L381.2 440.8 L382.3 439.2 L382.4 441.7 L383.3 438.8 L383.8 441.7 L385.1 443.8 L385.8 440.6 L386.0 438.2 L387.2 438.2 L388.2 439.5 L388.7 439.1 L389.7 443.0 L389.9 444.1 L391.5 441.4 L390.9 445.7 L391.5 444.3 L392.2 445.7 L392.1 450.1 L392.9 451.2 L392.6 448.8 L393.2 453.8 L393.3 452.0 L393.3 455.1 L394.4 452.1 L394.4 453.7 L394.1 449.4 L394.5 450.1 L395.6 446.2 L395.3 447.2 L396.0 444.2 L395.3 445.1 L396.4 442.4 L397.5 444.9 L399.0 441.1 L400.0 443.0 L400.7 441.3 L401.2 443.4 L401.5 444.3 L402.1 444.1 L402.7 448.8 L402.5 448.1 L403.5 451.1 L404.1 450.1 L404.1 451.9 L405.1 447.6 L405.2 448.6 L406.5 444.1 L406.5 447.5 L407.0 445.0 L407.4 441.0 L408.0 442.2 L408.8 439.5 L410.2 439.3 L410.8 437.7 L411.4 440.2 L412.2 434.5 L413.2 437.3 L412.9 434.1 L413.5 434.1 L414.3 431.6 L415.0 433.4 L414.7 427.8 L415.1 431.0 L416.6 427.3 L416.2 427.4 L416.2 424.2 L417.2 425.7 L417.9 423.0 L418.7 425.0 L418.8 420.2 L418.4 420.4 L419.6 417.9 L420.3 415.8 L421.3 416.4 L422.0 416.9 L423.3 413.7 L424.0 415.2 L425.0 412.6 L426.1 413.6 L426.7 412.2 L426.7 411.8 L427.4 407.3 L428.5 409.6 L429.0 404.7 L429.8 407.9 L430.8 403.6 L431.9 405.4 L431.4 405.8 L433.1 410.4 L432.6 411.0 L433.2 408.6 L433.6 413.0 L435.0 410.7 L435.8 414.9 L436.6 414.1 L437.6 418.9 L439.1 415.2 L439.8 419.0 L440.9 416.0 L441.6 418.6 L442.7 414.0 L442.8 414.1 L444.3 410.6 L445.8 413.7 L446.4 410.8 L447.1 409.5 L448.2 410.7 L449.0 407.4 L449.2 408.4 L450.5 403.5 L449.6 405.7 L451.4 401.4 L450.8 403.3 L452.2 400.6 L452.3 398.0 L452.3 398.8 L453.2 394.9 L453.8 397.2 L454.2 392.5 L455.1 392.0 L455.9 393.7 L457.4 392.8 L457.6 391.4 L458.0 392.0 L458.5 396.6 L459.5 396.2 L460.2 400.4 L460.0 398.4 L461.4 401.0 L460.6 400.0 L461.4 404.1 L462.2 399.8 L462.9 403.0 L462.0 398.0 L462.5 396.0 L463.5 399.2 L463.6 394.3 L463.4 394.4 L463.9 390.7 L464.5 392.7 L465.2 388.6 L466.1 391.7 L465.7 386.7 L466.3 389.5 L466.5 386.2 L467.6 382.9 L467.2 381.7 L467.8 384.6 L468.6 383.9 L469.1 378.0 L468.9 381.1 L469.4 375.1 L469.9 376.9 L470.5 375.5 L470.8 376.5 L470.9 371.2 L471.4 372.0 L472.3 371.6 L472.8 368.0 L472.6 366.4 L472.6 366.5 L474.6 363.3 L475.8 363.6 L476.3 369.0 L477.6 367.6 L477.7 366.4 L478.7 369.9 L480.0 370.0 L480.3 363.9 L480.1 367.8 L480.3 366.4 L480.2 360.6 L481.8 363.6 L481.8 359.0 L482.3 361.2 L482.4 359.6 L482.0 354.0 L482.4 354.3 L482.6 355.7 L483.4 354.4 L483.8 350.5 L484.6 351.6 L484.7 346.1 L485.0 349.7 L485.3 345.1 L484.8 346.9 L484.4 342.4 L485.2 343.0 L485.9 338.5 L485.1 341.3 L486.3 336.3 L485.7 339.3 L486.1 333.4 L486.0 334.9 L486.4 338.2 L486.4 333.8 L487.1 340.4 L486.7 338.1 L487.7 341.1 L488.1 339.8 L487.7 345.2 L487.9 347.0 L487.4 344.7 L487.7 345.2 L487.5 350.2 L487.6 351.2 L488.0 349.2 L489.2 354.2 L488.4 352.7 L489.2 353.2 L488.8 356.4 L489.8 355.0 L489.7 361.1 L489.9 357.1 L489.2 363.9 L489.8 365.3 L490.5 364.2 L490.4 363.1 L490.6 364.0 L490.1 366.3 L490.2 370.8 L491.2 368.8 L490.5 372.2 L491.4 371.3 L490.9 376.4 L491.3 373.6 L490.9 374.3 L492.0 378.9 L491.2 378.3 L491.9 378.5 L492.2 378.9 L492.3 376.2 L492.7 372.9 L492.3 375.5 L493.2 372.3 L492.4 368.5 L492.6 371.4 L493.0 369.4 L492.7 365.4 L492.9 363.8 L493.3 366.5 L493.3 360.5 L494.3 363.5 L494.5 359.0 L494.8 360.0 L494.2 365.1 L494.9 361.5 L495.7 367.5 L495.1 365.2 L495.4 370.0 L495.8 366.1 L496.8 370.5 L496.4 367.4 L496.4 364.9 L496.6 363.4 L497.7 365.9 L497.9 366.0 L497.2 360.2 L497.2 363.3 L497.5 356.9 L497.6 359.4 L497.9 358.5 L498.9 354.8 L498.9 355.2 L498.2 351.8 L499.3 352.9 L499.4 352.4 L500.8 351.7 L500.8 345.9 L502.3 347.7 L503.4 345.9 L504.2 350.9 L505.4 350.1 L504.7 347.7 L505.8 349.5 L505.7 345.6 L506.4 347.2 L505.6 343.2 L507.0 345.0 L507.3 340.2 L507.7 343.2 L508.9 337.9 L508.8 337.4 L509.8 336.0 L510.1 334.1 L510.5 337.1 L511.0 330.9 L511.4 332.1 L512.9 329.9 L512.9 327.4 L513.7 331.8 L514.0 328.9 L514.4 324.7 L514.4 325.9 L514.9 322.6 L516.0 324.6 L516.9 321.0 L517.2 321.6 L518.0 318.4 L518.9 315.3 L519.8 317.8 L519.3 312.8 L520.1 312.6 L521.6 311.3 L521.8 313.8 L523.2 309.5 L523.6 311.3 L524.7 307.8 L523.8 310.5 L523.7 310.0 L524.6 313.4 L524.4 314.2 L524.1 316.4 L526.2 313.1 L525.3 318.1 L525.4 315.5 L525.8 322.7 L525.6 319.8 L526.5 324.5 L526.3 322.9 L525.5 325.2 L526.0 322.6 L526.8 322.3 L528.0 316.5 L527.8 315.2 L527.0 319.3 L526.8 317.7 L528.2 312.7 L528.9 314.9 L528.9 310.1 L527.9 313.4 L528.4 306.7 L527.8 309.8 L528.6 308.6 L528.1 305.9 L528.3 302.9 L528.8 303.9 L529.9 300.7 L530.3 297.4 L530.5 296.3 L531.0 298.8 L530.0 294.3 L530.0 298.1 L530.0 292.5 L532.0 294.3 L533.0 290.3 L531.9 289.1 L533.6 290.9 L534.9 287.0 L535.6 288.8 L534.4 283.6 L536.5 287.6 L535.5 280.2 L536.8 282.7 L538.2 280.7 L538.7 280.6 L539.0 288.1 L540.0 286.7 L539.7 282.4 L541.3 285.4 L541.6 279.2 L540.5 281.7 L541.8 279.0 L540.8 275.8 L542.4 274.0 L542.4 279.2 L541.9 272.6 L541.5 274.1 L542.6 270.8 L543.4 273.0 L543.3 271.0 L543.6 265.8 L542.2 267.4 L542.5 266.2 L544.1 271.3 L542.9 271.9 L544.8 268.5 L544.9 275.4 L545.3 273.2 L544.8 278.6 L544.9 273.5 L545.6 276.4 L544.9 280.3 L545.7 277.2 L544.3 279.4 L545.5 284.7 L544.6 285.5 L545.3 283.3 L544.8 290.1 L546.6 291.4 L546.9 287.0 L546.0 293.3 L546.4 291.5 L545.9 296.6 L545.8 292.7 L546.6 294.8 L546.8 299.2 L547.1 296.7 L547.8 299.5 L547.1 302.6 L546.9 303.4 L547.9 302.8 L547.9 307.0 L546.8 303.6 L547.3 304.7 L548.7 310.2 L548.5 306.8 L547.8 308.9 L549.2 303.0 L549.3 304.8 L548.4 301.3 L549.6 304.7 L549.7 298.5 L549.5 301.0 L549.3 294.4 L548.6 298.7 L548.4 294.1 L548.8 295.3 L548.7 293.4 L548.8 287.9 L550.7 291.0 L549.3 286.6 L550.4 285.0 L549.1 286.6 L551.0 282.2 L550.0 285.1 L550.1 280.4 L549.7 282.4 L551.7 276.2 L550.0 280.1 L550.6 278.1 L551.0 272.1 L551.2 275.8 L552.2 271.1 L551.2 268.9 L551.6 272.3 L551.5 265.8 L553.0 270.6 L551.8 265.1 L553.2 264.3 L553.1 261.7 L553.5 265.2 L551.9 259.6 L553.1 261.2 L553.3 256.9 L553.2 258.3 L554.4 253.9 L553.8 257.1 L555.7 255.3 L555.7 253.4 L556.3 252.4 L555.5 247.2 L557.1 246.1 L557.2 249.5 L557.4 244.5 L557.9 248.8 L558.3 246.2 L557.7 246.5 L558.3 253.7 L557.7 251.5 L559.2 257.1 L558.5 252.4 L558.7 253.3 L558.8 260.9 L559.7 256.0 L560.1 261.0 L561.0 258.3 L561.9 260.0 L562.5 254.0 L561.7 256.1 L563.0 259.0 L563.8 261.7 L562.9 257.8 L563.8 262.4 L563.9 260.5 L564.4 266.6 L563.6 264.5 L564.0 269.6 L565.0 267.4 L565.6 267.6 L566.3 267.0 L565.1 273.3 L564.7 271.8 L566.2 275.1 L565.9 274.4 L565.6 278.1 L566.3 279.7 L565.9 281.7 L566.2 278.4 L566.7 284.4 L565.7 280.8 L567.6 286.9 L567.0 284.7 L566.4 285.6 L567.0 286.3 L567.7 292.8 L566.6 294.1 L568.2 290.8 L567.6 294.6 L568.3 297.4 L568.2 299.0 L568.5 294.1 L566.9 297.1 L567.8 301.3 L567.1 298.3 L568.2 304.9 L569.1 302.1 L568.5 306.3 L568.8 304.5 L568.8 308.9 L569.0 305.9 L569.6 311.8 L568.4 308.5 L569.6 312.0 L568.0 315.3 L569.8 311.6 L569.3 313.2 L570.4 308.7 L569.2 310.5 L571.2 304.9 L570.8 308.2 L571.0 304.1 L571.1 300.6 L572.1 305.9 L570.8 302.1 L572.6 298.8 L571.2 300.6 L572.8 294.5 L571.8 297.1 L572.4 296.5 L573.2 294.1 L573.1 292.4 L573.5 291.6 L573.5 296.5 L573.7 297.9 L574.5 297.8 L573.9 296.0 L574.2 297.9 L574.8 300.0 L574.2 303.4 L574.3 301.5 L575.1 308.0 L575.3 302.9 L574.7 308.0 L575.8 307.5 L575.3 312.1 L575.2 309.5 L575.4 314.0 L574.7 312.0 L576.3 316.1 L575.4 311.0 L576.0 314.5 L576.7 310.0 L576.6 310.9 L576.3 311.0 L576.1 305.8 L576.5 308.6 L575.9 306.7 L577.6 300.8 L578.2 305.3 L576.5 298.0 L577.5 301.5 L577.1 301.6 L578.5 294.9 L578.1 296.6 L578.2 298.0 L578.9 290.7 L578.6 294.5 L578.4 288.9 L579.1 288.7 L579.9 291.0 L578.6 284.4 L580.9 283.4 L579.1 283.1 L579.3 285.8 L580.5 279.8 L581.6 278.2 L581.3 278.6 L582.3 280.2 L580.6 275.6 L583.0 274.8 L582.6 278.3 L581.8 270.8 L582.2 275.3 L582.4 267.6 L584.3 271.3 L583.5 273.0 L583.9 270.0 L583.6 272.4 L585.2 277.8 L584.9 274.9 L585.9 279.9 L585.3 278.3 L584.7 283.9 L586.4 281.3 L586.5 284.4 L585.9 286.0 L587.0 287.4 L586.1 286.7 L587.3 286.4 L587.4 291.6 L587.1 288.7 L587.9 295.5 L587.1 293.8 L588.5 297.9 L588.4 294.4 L587.6 299.3 L587.7 296.9 L588.4 302.7 L589.5 303.8 L589.6 301.1 L588.6 306.9 L590.4 303.9 L589.1 310.6 L589.0 307.0 L589.7 311.2 L590.4 313.2 L591.9 309.7 L591.2 315.3 L592.1 313.1 L592.1 313.9 L593.5 317.6 L593.5 318.7 L592.9 320.5 L592.7 320.0 L594.6 322.3 L593.4 321.6 L594.6 325.5 L593.9 323.5 L595.6 324.8 L594.6 328.6 L596.1 327.5 L594.2 331.9 L595.1 334.7 L595.9 329.8 L595.0 337.2 L596.8 333.0 L595.1 338.2 L595.6 337.2 L596.7 341.5 L597.3 338.3 L597.2 345.4 L597.0 342.5 L597.3 347.5 L597.4 345.2 L597.6 350.6 L598.5 346.4 L599.3 352.0 L599.1 353.6 L600.2 349.4 L599.2 350.1 L600.4 353.2 L600.2 359.4 L600.4 356.5 L600.6 362.1 L599.6 357.5 L600.0 362.8 L599.7 361.0 L600.8 365.9 L600.0 367.6 L600.5 368.5 L600.8 366.9 L600.3 371.9 L600.2 372.2 L600.9 375.4 L600.1 371.3 L599.8 378.2 L600.4 374.7 L600.9 378.2 L600.9 380.4 L600.0 377.5 L601.0 382.4 L600.8 384.2 L601.2 382.0 L600.5 383.9 L600.4 389.1 L600.7 386.6 L600.4 392.1 L601.0 388.1 L600.7 393.7 L600.2 394.6 L601.1 393.2 L600.2 398.3 L600.8 395.3 L601.0 401.0 L600.5 401.7 L601.1 398.1 L601.2 403.4 L600.5 400.7 L601.8 407.0 L600.9 402.5 L601.6 406.3 L601.4 411.4 L601.8 412.1 L601.4 407.9 L601.6 414.9 L602.6 410.5 L602.3 411.5 L602.1 417.4 L601.6 418.3 L602.6 421.8 L602.0 419.3 L603.0 422.7 L602.8 419.2 L602.3 426.9 L602.2 422.7 L602.2 423.2 L602.4 424.6 L602.4 431.8 L603.3 432.3 L603.1 428.7 L603.1 430.0 L603.5 437.2 L603.0 433.3 L602.8 437.9 L603.4 437.5 L603.8 441.4 L603.4 442.7 L603.7 441.3 L603.3 446.6 L603.4 441.8 L604.3 447.5 L604.1 442.5 L603.9 441.5 L604.8 443.2 L603.7 443.3 L604.7 437.0 L604.4 441.0 L604.1 436.1 L604.8 437.9 L604.6 435.6 L605.3 434.9 L605.3 429.9 L604.5 427.1 L605.3 427.2 L605.0 429.7 L605.6 424.5 L604.9 426.2 L604.8 426.6 L605.8 420.1 L604.9 422.8 L605.5 419.2 L604.9 421.4 L606.0 416.3 L605.2 415.1 L605.2 414.3 L606.1 416.3 L605.2 422.0 L605.3 420.2 L605.7 419.8 L606.0 422.2 L606.6 428.5 L606.8 425.4 L606.7 428.7 L606.3 431.7 L607.0 433.7 L606.9 434.4 L607.2 431.2 L606.8 435.6 L607.2 433.1 L607.4 438.7 L606.7 440.4 L607.0 439.0 L606.5 442.8 L606.7 441.1 L607.1 446.1 L607.1 444.3 L607.6 449.1 L607.8 446.8 L606.8 450.9 L607.5 449.9 L607.4 454.7 L608.2 450.3 L608.1 453.1 L607.2 458.2 L608.0 456.0 L607.4 460.3 L607.6 456.9 L607.9 463.6 L607.7 463.7 L607.5 463.1 L608.6 463.7 L607.9 458.5 L608.2 459.2 L608.4 457.8 L608.1 459.7 L608.1 454.1 L608.3 457.4 L608.6 452.2 L609.5 453.4 L609.4 452.3 L608.9 452.0 L608.7 447.9 L608.8 450.6 L610.1 447.9 L609.1 443.4 L610.1 445.3 L609.7 445.1 L609.6 440.0 L610.4 440.6 L609.8 435.6 L610.3 440.3 L610.5 433.6 L611.0 437.6 L610.7 435.1 L610.6 429.4 L611.6 428.4 L611.1 427.8 L612.2 429.3 L611.8 426.3 L612.3 427.7 L612.6 422.6 L613.6 421.8 L613.5 423.5 L614.4 424.0 L614.3 422.0 L613.7 429.0 L614.1 424.0 L614.7 431.7 L614.3 428.3 L614.9 430.1 L614.5 435.1 L614.7 432.5 L615.8 434.0 L614.8 438.0 L614.9 437.1 L615.3 441.4 L615.6 443.5 L615.9 444.5 L616.0 441.9 L616.8 441.9 L617.0 444.2 L617.1 447.5 L617.1 446.6 L617.5 447.3 L618.1 447.0 L619.0 443.3 L619.1 440.4 L619.5 440.7 L619.3 445.9 L619.2 445.6 L619.8 443.8 L620.5 450.1 L620.3 447.5 L620.7 446.5 L620.6 449.7 L620.4 454.0 L620.3 450.8 L621.6 452.7 L621.8 458.8 L621.4 456.7 L622.1 457.2 L622.2 453.5 L622.8 451.3 L622.5 453.2 L623.9 448.8 L623.8 451.2 L624.2 447.4 L624.6 450.3 L624.2 442.9 L624.9 445.6 L625.9 446.4 L625.3 440.1 L625.7 439.4 L625.6 441.1 L626.5 436.5 L626.4 439.4 L626.6 434.9 L626.8 433.9 L627.7 435.1 L627.5 431.8 L628.2 430.0 L627.6 430.7 L627.9 425.4 L628.9 426.1 L628.4 428.3 L629.6 422.9 L629.6 423.7 L629.2 420.3 L629.4 423.2 L629.5 416.6 L630.6 415.1 L630.3 418.3 L630.8 419.0 L631.4 411.7 L631.4 414.6 L630.8 410.2 L631.0 411.7 L631.1 407.3 L631.9 410.9 L631.8 403.8 L631.9 406.6 L632.7 403.7 L632.7 406.7 L632.7 401.6 L633.2 400.5 L633.6 401.2 L633.3 397.3 L634.0 399.0 L635.1 399.2 L635.1 396.2 L635.1 394.1 L636.3 399.6 L635.7 402.2 L636.3 398.4 L636.0 404.5 L636.9 401.4 L636.6 406.6 L636.5 403.5 L637.2 410.3 L637.2 409.1 L638.2 406.9 L637.9 407.3 L638.5 412.9 L638.4 413.5 L639.0 412.7 L639.4 407.9 L638.6 407.7 L638.9 404.3 L638.6 408.4 L638.9 406.2 L640.1 400.3 L639.5 404.9 L639.2 399.7 L639.3 402.3 L639.5 397.0 L639.8 398.9 L640.3 392.2 L640.8 391.2 L640.8 394.3 L641.1 389.2 L640.6 389.0 L640.7 391.5 L641.7 385.2 L640.9 389.7 L641.9 382.0 L641.4 385.5 L642.4 384.8 L641.4 379.7 L643.0 380.9 L642.4 381.3 L643.4 375.7 L643.8 377.9 L642.9 375.6 L644.5 372.7 L644.6 376.3 L645.6 371.5 L645.4 371.9 L646.3 368.0 L646.6 366.2 L646.4 368.7 L647.5 364.8 L647.6 367.2 L647.0 360.9 L648.2 365.5 L647.6 360.1 L648.4 362.3 L648.6 357.0 L648.2 358.5 L648.7 354.4 L649.6 352.4 L649.2 355.5 L650.6 355.1 L650.1 348.1 L651.3 350.7 L651.7 351.1 L653.1 348.1 L654.1 345.5 L655.1 349.0 L655.2 348.6 L656.6 350.5 L657.3 350.1 L658.1 355.0 L657.5 351.0 L658.8 355.4 L659.0 355.5 L659.1 353.2 L659.2 356.0 L659.2 349.8 L659.4 353.2 L659.6 350.6 L659.8 349.4 L660.4 345.6 L660.9 348.2 L661.7 341.5 L661.3 342.1 L661.8 343.2 L661.8 342.3 L662.2 345.6 L662.3 343.2 L662.9 348.8 L663.3 346.5 L663.7 347.2 L663.9 352.8 L663.6 354.8 L664.4 351.7 L663.4 353.5 L664.6 355.2 L663.9 358.5 L664.8 357.5 L664.7 361.3 L664.0 363.8 L665.1 365.0 L665.2 366.4 L665.1 362.2 L665.5 366.9 L665.4 365.4 L664.6 370.9 L665.4 367.5 L665.2 369.5 L665.2 374.7 L665.8 371.7 L665.2 375.8 L665.4 373.2 L665.3 375.2 L665.8 369.6 L665.8 372.4 L667.1 370.6 L666.5 367.5 L666.7 368.3 L668.1 364.7 L668.4 365.4 L667.4 364.3 L668.4 360.3 L669.0 360.9 L668.6 357.0 L669.5 358.3 L669.4 354.1 L669.4 357.9 L669.5 352.1 L669.4 350.5 L669.1 350.2 L669.8 351.5 L671.0 348.1 L671.4 346.1 L671.2 344.0 L671.2 345.8 L672.5 347.3 L672.6 341.7 L673.0 342.3 L673.2 340.9 L674.2 346.8 L674.1 344.7 L675.3 346.5 L674.4 351.4 L675.7 346.8 L676.1 350.2 L676.2 354.1 L676.2 356.4 L676.4 353.2 L676.7 355.4 L675.8 360.1 L675.7 355.9 L676.6 362.9 L677.0 359.5 L676.1 363.6 L677.3 366.1 L676.7 365.6 L677.3 365.1 L677.9 368.6 L678.0 368.0 L677.1 371.2 L678.3 369.9 L677.6 370.8 L677.9 371.3 L677.9 372.7 L678.1 379.0 L678.3 375.1 L678.4 377.7 L678.3 378.8 L678.9 382.7 L679.9 380.7 L680.3 381.8 L679.9 387.5 L680.4 385.2 L680.0 389.2 L680.8 386.1 L680.8 391.0 L681.7 390.1 L681.2 391.4 L681.4 386.5 L682.1 388.6 L682.6 385.1 L683.2 385.7 L682.5 382.0 L682.6 384.3 L683.7 378.5 L683.3 380.1 L684.2 377.5 L684.9 379.0 L684.9 374.6 L684.6 374.7 L684.3 370.3 L685.7 372.7 L685.4 370.4 L685.5 366.2 L685.9 370.0 L686.9 367.1 L687.7 364.7 L687.0 365.0 L687.6 361.5 L688.5 363.0 L688.5 361.9 L689.2 358.2 L689.4 356.6 L689.7 355.6 L690.3 358.6 L689.8 352.6 L690.9 354.5 L690.2 352.8 L690.8 350.0 L691.5 351.6 L691.5 355.9 L690.9 357.1 L690.7 354.7 L690.8 359.2 L691.2 359.8 L691.4 357.3 L691.8 363.4 L691.6 365.4 L691.9 365.1 L692.6 364.3 L692.2 363.8 L691.8 369.2 L693.0 368.0 L692.4 364.8 L693.6 368.0 L693.2 365.8 L693.8 361.6 L693.4 361.8 L693.8 362.3 L693.4 359.3 L694.0 355.9 L694.7 359.0 L694.2 353.2 L695.6 356.2 L695.0 354.1 L696.1 351.6 L696.3 353.0 L696.2 346.7 L695.5 349.9 L696.5 345.9 L696.9 347.7 L696.6 341.8 L697.4 344.4 L697.4 341.0 L697.8 343.2 L696.7 340.1 L697.4 335.8 L697.2 339.5 L697.2 334.6 L697.7 337.2 L697.6 330.4 L698.0 332.6 L698.9 329.1 L698.7 328.5 L698.1 328.4 L699.3 323.9 L699.0 324.5 L699.8 327.1 L700.1 324.3 L700.1 323.8 L700.9 319.3 L701.4 320.2 L701.5 318.7 L701.1 319.5 L701.6 319.9 L701.3 327.0 L702.1 323.1 L703.2 328.9 L702.5 326.1 L702.6 330.4 L703.0 329.0 L703.8 332.6 L704.0 332.1 L704.1 337.3 L703.2 334.1 L704.1 338.1 L703.7 339.7 L704.5 341.5 L704.2 342.7 L703.8 341.0 L703.9 346.0 L704.5 345.7 L704.8 345.2 L705.0 346.4 L705.3 341.2 L705.4 344.0 L705.8 339.7 L705.5 338.9 L704.8 339.1 L706.0 334.3 L706.1 332.9 L705.4 337.4 L705.5 331.9 L705.9 332.6 L706.5 332.5 L706.9 326.4 L707.4 329.3 L707.9 326.0 L708.3 328.2 L708.4 323.4 L708.7 320.5 L709.2 324.2 L709.5 319.1 L709.8 320.6 L710.8 319.9 L711.4 319.9 L711.7 313.0 L711.1 315.4 L712.0 311.7 L712.7 314.7 L713.8 309.9 L715.2 312.4 L716.2 309.5 L716.7 308.6 L715.9 313.5 L716.5 310.8 L717.1 313.4 L716.0 314.4 L717.2 319.7 L716.9 320.1 L716.9 317.7 L717.0 324.5 L717.1 322.2 L718.1 326.2 L717.2 324.9 L718.3 329.2 L717.5 327.8 L717.6 330.8 L717.9 328.9 L718.0 334.0 L718.8 332.9 L718.8 336.1 L719.3 332.8 L718.1 334.7 L718.8 330.7 L719.5 333.1 L719.1 327.3 L719.3 328.8 L719.7 327.2 L719.0 322.2 L718.9 326.1 L719.8 324.4 L720.0 318.1 L720.0 322.2 L720.2 315.4 L719.9 317.4 L719.6 317.6 L720.9 312.5 L720.2 313.9 L721.3 313.5 L721.1 313.2 L721.7 310.6 L721.7 307.3 L721.8 308.1 L721.9 307.3 L721.6 306.0 L721.9 300.1 L722.7 302.6 L723.5 302.9 L723.0 296.0 L724.3 297.0 L724.3 301.4 L723.7 302.0 L724.0 298.8 L724.3 305.3 L724.9 307.4 L725.8 304.7 L725.0 308.1 L726.2 306.9 L725.6 308.4 L726.0 313.3 L726.1 310.5 L727.4 315.0 L727.1 312.2 L726.7 313.5 L727.9 314.3 L728.4 319.2 L727.4 318.7 L728.7 317.6 L729.2 323.3 L729.0 320.3 L729.2 321.9 L730.6 327.0 L730.9 325.2 L730.8 326.6 L730.7 324.3 L731.2 320.7 L731.8 323.6 L730.9 318.5 L732.2 320.5 L731.4 318.7 L731.3 312.7 L732.5 312.6 L732.7 314.3 L733.0 310.5 L733.5 309.7 L733.3 310.7 L734.0 309.7 L734.7 306.6 L734.8 311.8 L734.9 309.5 L736.0 314.4 L735.3 312.3 L736.0 318.5 L734.9 316.0 L735.3 321.2 L735.9 323.5 L735.4 324.7 L735.9 322.0 L736.6 321.9 L735.4 328.7 L736.7 325.6 L736.1 331.1 L736.9 326.9 L737.0 333.1 L736.8 330.2 L736.1 332.2 L736.2 337.4 L736.9 337.7 L736.6 339.6 L736.3 338.2 L736.5 342.2 L736.4 343.4 L736.6 342.0 L736.6 342.1 L737.3 347.5 L737.4 344.9 L737.6 349.8 L737.9 349.0 L737.4 349.5 L737.8 353.7 L738.6 351.4 L737.7 352.1 L738.1 358.9 L738.6 356.4 L737.8 356.3 L738.1 361.2 L738.6 362.0 L739.4 360.0 L739.1 365.5 L739.4 363.4 L740.2 366.5 L740.0 364.7 L740.2 371.2 L741.0 368.8 L740.8 372.3 L741.0 370.0 L741.2 375.7 L742.2 374.0 L742.1 377.3 L741.9 376.0 L742.3 381.0 L742.6 379.5 L743.5 381.6 L743.3 382.6 L743.9 380.5 L743.7 375.7 L744.1 374.7 L744.3 377.9 L744.7 372.4 L744.2 375.3 L744.9 373.2 L744.4 368.8 L744.9 371.7 L745.0 366.9 L745.0 369.1 L745.1 364.3 L744.8 365.4 L745.8 360.2 L744.8 364.0 L744.8 357.8 L745.2 361.3 L745.9 356.8 L745.3 358.0 L746.4 353.9 L746.1 355.3 L746.8 349.9 L746.0 351.7 L746.4 351.1 L746.1 347.5 L747.1 348.2 L747.2 344.4 L747.1 343.0 L747.6 343.7 L747.8 345.2 L748.3 344.8 L747.2 348.0 L748.1 346.6 L748.2 347.4 L748.0 351.6 L747.7 348.9 L748.2 354.9 L748.8 352.4 L748.0 352.8 L749.2 358.9 L749.0 356.9 L749.3 360.2 L748.8 357.6 L748.5 364.5 L748.5 362.0 L749.0 362.2 L749.6 367.9 L748.8 365.4 L749.5 369.6 L749.9 367.0 L749.5 371.3 L749.0 370.5 L749.5 371.9 L749.6 375.6 L750.2 374.1 L750.0 378.2 L749.5 376.6 L751.0 380.2 L751.2 379.0 L751.5 382.4 L750.6 379.6 L751.6 382.4 L751.8 377.5 L751.4 377.6 L751.8 373.6 L752.2 375.5 L752.0 375.4 L751.9 371.5 L752.3 371.7 L753.5 366.8 L752.6 369.3 L753.3 369.4 L754.1 362.9 L753.5 365.7 L754.1 360.5 L754.5 361.0 L754.2 362.8 L755.1 356.6 L755.7 356.8 L755.9 359.6 L755.9 353.9 L756.4 354.5 L757.5 350.4 L757.2 352.8 L757.7 348.1 L758.4 350.9 L758.8 344.6 L759.4 345.2 L759.1 347.3 L758.9 340.6 L760.3 344.7 L759.5 339.5 L759.9 341.4 L760.3 336.9 L761.4 338.0 L761.5 333.7 L762.6 333.9 L763.2 333.0 L764.7 336.4 L766.2 336.1 L767.5 334.1 L767.8 338.1 L768.4 336.4 L769.5 341.7 L770.5 341.7 L769.5 342.7 L770.5 345.1 L770.4 342.0 L770.8 346.7 L771.7 345.5 L771.2 350.3 L771.7 349.3 L772.2 351.9 L771.7 355.1 L772.5 356.6 L772.1 352.5 L772.5 355.3 L772.7 355.3 L771.8 356.0 L772.8 360.9 L772.4 363.6 L772.2 360.9 L773.7 364.8 L773.0 366.4 L773.2 364.4 L773.4 370.7 L773.9 367.8 L773.6 372.3 L774.8 369.2 L774.5 374.4 L774.9 372.5 L774.6 376.5 L775.5 372.8 L775.9 375.1 L775.5 370.2 L775.9 373.1 L776.2 366.9 L776.5 368.7 L776.2 364.6 L777.5 362.8 L777.1 365.0 L778.0 360.5 L778.0 363.6 L778.3 357.7 L778.2 358.2 L778.6 358.8 L778.4 355.5 L779.5 357.2 L780.0 353.1 L780.7 354.3 L780.7 350.9 L780.7 352.5 L780.9 352.7 L781.2 353.8 L781.7 359.6 L781.7 356.6 L782.1 356.5 L781.9 363.5 L782.6 360.7 L783.3 365.6 L783.8 365.9 L783.2 366.5 L784.1 364.1 L784.2 366.2 L783.7 364.5 L784.8 363.1 L784.4 357.7 L785.3 359.7 L784.2 359.1 L784.5 355.4 L784.7 355.7 L785.9 351.8 L786.3 354.0 L785.3 350.6 L785.6 348.2 L786.9 348.4 L786.5 349.3 L787.0 344.1 L786.5 343.3 L786.7 344.8 L787.9 340.0 L787.9 343.3 L787.5 341.8 L788.3 338.1 L787.7 338.4 L788.0 334.8 L789.2 334.5 L788.6 333.4 L788.9 334.4 L789.3 332.7 L790.7 330.8 L791.1 336.4 L791.8 335.6 L793.2 331.7 L793.3 334.3 L794.5 329.2 L795.0 334.2 L794.9 335.3 L795.6 335.6 L795.9 338.0 L796.8 337.7 L797.2 337.5 L798.1 336.1 L798.3 331.2 L797.8 332.7 L797.8 329.1 L798.3 329.6 L798.7 326.6 L799.6 328.9 L799.2 323.1 L800.0 323.0 L799.7 324.3 L800.5 320.4 L800.6 321.8 L800.7 319.0 L801.5 319.1 L801.3 318.0 L801.7 314.4 L801.9 311.0 L803.1 313.4 L803.6 310.5 L804.7 308.6 L805.8 312.3 L806.8 308.0 L807.9 310.9 L808.8 306.7 L810.0 310.0 L811.5 311.4 L812.7 306.7 L813.3 306.5 L814.6 312.9 L815.8 311.1 L816.4 309.3 L816.8 316.5 L817.6 316.2 L818.0 316.9 L817.5 312.3 L817.7 316.0 L818.2 308.5 L818.2 312.5 L818.8 308.0 L818.7 308.4 L819.2 304.6 L819.5 305.7 L818.6 306.0 L819.6 304.6 L819.4 299.3 L819.2 301.4 L819.7 298.0 L820.6 298.7 L820.6 293.7 L820.5 297.4 L820.4 292.6 L821.1 293.5 L821.1 292.6 L821.3 297.4 L821.8 294.6 L821.8 296.3 L822.8 300.5 L822.2 302.8 L822.4 298.9 L822.6 303.6 L822.4 302.0 L822.8 307.7 L824.1 308.6 L823.7 310.1 L824.2 310.7 L824.2 309.6 L824.3 315.0 L824.3 310.3 L824.9 316.3 L824.3 317.3 L824.6 316.6 L824.3 316.8 L825.9 321.5 L825.7 318.6 L825.7 321.1 L825.2 325.4 L825.6 323.3 L826.2 323.8 L826.3 325.7 L826.2 329.9 L826.7 324.7 L827.1 327.2 L827.1 324.2 L827.4 326.5 L827.7 325.7 L827.5 318.6 L826.9 322.3 L827.4 317.8 L827.8 320.3 L828.2 314.0 L828.9 316.0 L828.6 312.2 L828.0 310.8 L829.4 309.5 L829.0 311.0 L830.4 307.5 L830.6 309.4 L831.1 304.2 L831.8 308.2 L831.8 302.8 L832.6 305.3 L833.6 299.2 L834.1 301.6 L834.3 300.0 L834.8 305.1 L835.5 302.7 L835.4 307.8 L836.1 303.2 L835.6 310.3 L836.8 307.5 L835.8 309.8 L836.4 310.1 L837.0 308.7 L836.4 303.7 L837.2 307.0 L836.4 301.4 L837.8 300.7 L836.8 298.0 L837.3 296.6 L837.3 301.2 L838.3 295.4 L837.7 298.7 L838.2 293.0 L838.8 294.9 L838.0 294.2 L838.8 289.1 L839.3 290.7 L839.5 285.0 L838.7 288.2 L839.5 282.8 L839.5 284.1 L840.7 279.4 L840.0 282.3 L841.2 277.9 L841.5 278.5 L842.4 274.6 L842.7 274.8 L843.6 276.1 L845.2 274.5 L845.8 276.2 L845.9 282.1 L847.3 278.9 L846.8 279.2 L848.2 283.3 L848.0 280.6 L848.1 288.0 L848.5 286.8 L849.1 281.5 L849.2 285.4 L849.5 279.7 L850.8 283.5 L850.5 276.8 L850.9 278.8 L852.3 274.9 L852.7 279.6 L853.3 275.0 L854.2 279.0 L853.4 275.8 L853.8 278.5 L854.7 278.0 L854.3 285.3 L854.1 281.5 L854.7 283.7 L854.8 289.2 L855.7 286.5 L855.2 291.5 L855.8 288.6 L856.3 293.4 L855.8 292.0 L856.2 295.1 L856.8 289.7 L856.8 294.0 L857.2 293.6 L856.5 285.8 L857.0 290.8 L856.9 283.0 L857.5 287.1 L857.5 281.9 L857.6 285.2 L857.4 278.1 L858.5 278.7 L859.1 282.4 L860.2 277.4 L861.2 279.6 L861.8 275.9 L861.8 276.7 L862.7 272.9 L863.4 276.0 L864.0 270.0 L864.5 271.1 L864.9 267.2 L866.4 267.6 L866.2 268.7 L867.7 264.8 L868.2 263.0 L869.3 265.4 L869.3 261.4 L869.4 264.5 L870.7 262.5 L871.3 258.9 L871.1 260.8 L871.7 259.1 L872.0 255.4 L873.1 258.1 L873.9 252.8 L873.8 253.3 L875.2 249.8 L875.7 254.9 L876.5 251.4 L876.9 255.7 L877.5 253.6 L878.2 254.7 L879.1 260.3 L878.7 261.0 L879.7 258.2 L879.3 264.7 L879.1 260.6 L880.4 264.5 L880.7 260.6 L881.0 263.0 L881.1 263.6 L881.6 256.4 L882.1 260.8 L882.5 255.6 L883.2 258.3 L883.7 259.0 L883.8 256.1 L884.9 258.3 L884.3 260.5 L885.3 264.1 L885.0 262.2 L885.7 267.5 L886.0 268.4 L885.5 267.9 L885.9 271.4 L886.7 268.5 L886.1 271.7 L886.1 271.4 L886.1 277.2 L886.0 275.4 L886.4 275.9 L887.3 281.7 L887.5 277.4 L887.2 284.0 L886.8 280.9 L887.6 286.7 L886.9 283.5 L888.1 287.7 L887.2 288.5 L888.2 285.6 L888.1 293.6 L888.6 292.2 L888.4 290.1 L888.4 295.2 L888.1 295.1 L888.3 290.1 L889.3 291.8 L889.4 287.5 L889.2 288.1 L889.7 284.9 L890.3 286.6 L889.6 280.8 L889.8 283.0 L890.1 277.6 L890.7 280.1 L890.7 277.4 L891.9 279.8 L893.0 274.7 L894.0 274.6 L893.6 279.3 L894.5 276.6 L894.4 282.1 L894.1 278.1 L895.4 284.2 L895.4 280.4 L894.6 287.8 L895.3 288.8 L895.5 288.4 L895.2 289.6 L894.9 289.3 L896.1 292.6 L896.4 291.6 L895.5 295.3 L896.2 293.5 L897.4 298.8 L898.6 294.7 L899.4 298.8 L898.7 294.4 L899.3 297.6 L899.5 290.7 L900.4 294.3 L900.0 292.9 L901.5 289.8 L901.9 287.8 L901.3 290.3 L902.4 283.2 L902.6 288.1 L903.5 287.2 L903.9 280.3 L903.0 282.3 L904.5 278.6 L905.1 280.6 L905.0 276.1 L905.5 277.7 L905.6 273.9 L906.1 275.4 L906.6 272.1 L906.9 271.4 L907.1 276.8 L907.0 278.0 L907.8 273.2 L908.0 275.4 L907.6 280.2 L908.3 277.1 L908.9 283.7 L908.3 281.4 L908.3 285.8 L909.5 280.1 L909.6 279.5 L909.6 282.8 L909.0 276.3 L909.9 276.3 L910.4 273.0 L910.1 276.6 L910.0 275.1 L911.0 270.4 L910.4 273.2 L910.4 271.0 L911.2 267.6 L911.4 269.5 L911.0 262.4 L911.6 267.3 L912.5 260.3 L913.0 259.1 L912.6 263.6 L913.0 257.6 L913.2 260.0 L913.3 253.9 L913.5 257.4 L914.7 253.3 L916.5 256.7 L917.0 251.2 L917.2 257.3 L917.9 257.7 L918.2 258.8 L918.4 259.7 L919.2 261.9 L919.9 258.3 L920.0 262.5 L920.6 259.6 L920.9 261.0 L921.2 266.4 L921.9 264.4 L921.5 268.1 L921.7 265.9 L921.9 273.0 L922.7 270.4 L923.5 271.4 L922.7 273.3 L922.9 278.7 L923.1 273.9 L923.7 280.4 L924.0 276.2 L924.2 283.0 L923.4 282.7 L924.6 279.6 L924.1 280.4 L924.3 276.0 L925.9 280.2 L924.8 276.9 L925.9 273.6 L925.8 273.9 L926.3 273.7 L926.8 271.7 L926.1 272.1 L927.4 275.1 L926.7 279.8 L927.6 279.2 L927.2 282.6 L927.1 279.3 L927.4 283.4 L928.2 281.7 L927.2 288.2 L927.3 282.9 L927.9 290.3 L928.5 286.0 L928.3 289.6 L928.7 288.4 L928.1 294.5 L929.3 295.6 L928.7 293.6 L928.5 294.7 L928.8 299.3 L928.6 296.5 L928.9 298.6 L928.9 303.0 L928.9 301.5 L929.6 307.8 L929.1 304.7 L929.8 309.1 L929.2 306.0 L930.5 308.6 L930.7 310.1 L930.9 305.8 L931.4 308.4 L931.1 302.2 L931.2 301.0 L932.2 304.6 L931.8 297.9 L932.3 297.5 L932.7 297.5 L932.0 301.6 L932.7 297.4 L932.8 303.7 L932.5 300.7 L933.6 301.1 L933.5 306.3 L933.0 304.3 L933.4 310.8 L933.8 306.4 L933.9 311.8 L933.7 309.2 L934.6 314.8 L934.6 313.7 L934.3 318.2 L934.7 316.3 L934.7 316.5 L934.9 311.5 L934.3 314.0 L935.5 310.6 L934.9 313.1 L934.5 307.8 L935.4 306.1 L935.2 308.1 L935.8 303.8 L935.5 302.2 L936.0 301.5 L936.4 300.0 L936.5 301.4 L936.5 297.4 L936.0 295.7 L936.9 296.8 L936.9 292.3 L937.8 296.6 L938.5 291.1 L938.4 290.4 L939.1 290.8 L938.6 290.4 L938.8 289.4 L939.3 295.1 L939.9 291.8 L940.3 297.4 L941.2 294.5 L940.3 297.8 L940.4 298.9 L941.3 296.3 L942.8 299.7 L943.1 295.0 L944.0 294.2 L944.2 299.0 L944.4 297.8 L945.7 301.3 L946.2 302.3 L946.3 299.5 L946.1 301.9 L946.3 306.8 L946.0 303.5 L946.9 309.4 L946.5 310.0 L946.4 307.2 L947.4 309.6 L947.5 314.2 L947.2 312.1 L946.6 313.5 L947.4 319.3 L948.3 317.1 L947.3 320.7 L948.1 318.9 L948.5 323.6 L947.6 320.9 L948.3 323.2 L949.0 328.6 L949.0 325.2 L949.6 330.4 L949.0 328.8 L949.0 334.1 L949.2 330.9 L949.0 335.0 L949.7 337.4 L950.3 334.8 L951.0 339.2 L952.1 336.0 L951.7 336.8 L951.9 332.2 L952.4 335.3 L953.0 328.8 L952.4 332.8 L953.4 326.8 L953.8 329.2 L953.3 325.0 L953.8 322.4 L954.0 320.7 L953.9 324.1 L954.0 319.0 L954.5 322.4 L954.7 315.7 L955.3 318.0 L954.3 312.3 L954.9 316.1 L955.5 311.9 L955.7 313.8 L955.2 308.5 L955.8 311.8 L956.8 306.6 L957.1 309.4 L958.0 304.6 L958.0 305.0 L958.7 310.7 L959.0 307.7 L959.3 313.6 L959.9 311.2 L960.5 314.0 L959.7 306.8 L960.7 305.1 L961.0 308.8 L961.1 304.6 L961.1 301.6 L960.8 305.8 L961.7 300.5 L961.1 302.4 L962.1 297.6 L962.1 300.9 L961.4 294.7 L961.3 292.8 L962.0 294.4 L962.0 292.2 L962.6 297.8 L963.0 295.4 L964.0 300.5 L964.2 298.7 L965.0 303.4 L964.5 302.5 L965.3 296.3 L965.2 301.0 L965.6 295.3 L965.4 298.5 L966.0 291.9 L966.1 292.2 L966.8 293.4 L966.9 291.8 L968.0 296.9 L968.8 295.9 L968.9 294.6 L969.8 299.5 L968.7 299.3 L970.0 298.4 L969.6 304.2 L969.1 305.6 L969.6 300.6 L969.5 306.8 L969.9 304.3 L969.7 304.5 L970.6 311.7 L970.2 308.5 L969.7 312.0 L970.3 310.3 L970.9 312.3 L970.5 317.6 L971.3 313.0 L970.6 318.2 L970.3 316.1 L970.7 320.7 L971.4 317.5 L970.9 316.3 L971.0 316.9 L971.9 311.9 L971.3 310.8 L971.6 315.2 L972.1 309.5 L971.1 312.1 L971.4 306.1 L971.4 303.7 L972.1 307.5 L972.8 302.6 L972.5 299.9 L971.9 304.1 L971.9 298.2 L972.7 300.4 L973.3 300.5 L972.4 295.6 L972.9 297.3 L973.6 293.0 L973.6 293.6 L973.1 289.3 L974.5 291.4 L974.8 286.1 L975.1 290.6 L974.7 284.0 L975.4 288.1 L975.5 283.1 L976.5 280.5 L977.2 285.1 L977.7 277.8 L979.0 278.3 L980.2 276.6 L980.9 280.3 L981.6 283.5 L982.3 278.5 L983.1 285.5 L983.5 286.7 L982.9 283.0 L983.6 287.0 L984.8 284.8 L986.3 283.8 L987.4 288.6 L987.3 287.0 L988.0 289.7 L988.4 294.8 L987.6 291.3 L987.9 291.0 L988.6 298.6 L989.0 295.4 L989.6 298.7 L988.9 295.7 L989.1 296.7 L989.7 295.4 L989.7 295.8 L991.0 290.1 L991.5 290.7 L991.2 286.3 L992.2 288.4 L991.9 285.1 L992.7 285.4" fill="none" stroke="#cc4646" stroke-width="5.2" stroke-linejoin="round" stroke-linecap="butt"/>
<path d="M183.2 410.2 L184.5 411.0 L186.5 409.2 L188.2 410.4 L190.2 409.2 L191.8 406.8 L192.9 407.4 L194.6 404.9 L196.2 404.8 L197.2 407.7 L198.3 407.1 L199.7 408.1 L201.9 405.5 L203.7 405.1 L205.4 405.6 L206.6 402.4 L208.6 400.9 L209.7 400.8 L211.4 400.7 L213.1 400.3 L214.4 399.5 L215.9 397.2 L218.0 397.8 L220.1 396.8 L221.5 395.8 L223.1 396.5 L224.6 394.3 L226.1 394.3 L226.9 393.7 L228.4 390.3 L228.4 390.7 L229.8 387.4 L231.5 387.4 L232.8 386.6 L234.3 383.6 L236.2 384.7 L238.0 381.8 L239.4 382.6 L240.3 378.7 L242.1 379.3 L244.1 380.6 L246.0 380.0 L248.0 378.7 L249.5 378.7 L250.8 375.9 L252.6 378.3 L253.8 377.2 L255.7 376.9 L257.2 373.2 L258.1 374.2 L259.8 372.6 L261.4 370.1 L262.7 370.2 L264.2 367.4 L265.7 366.4 L267.5 367.3 L268.6 363.0 L270.4 363.1 L272.3 363.3 L273.6 363.5 L275.3 365.8 L276.1 366.7 L277.6 368.1 L279.4 365.6 L280.8 367.4 L282.7 367.1 L283.7 363.4 L285.8 366.0 L287.2 367.9 L288.8 366.7 L290.5 367.2 L291.8 366.5 L293.4 363.5 L294.3 362.1 L296.0 362.1 L297.7 362.5 L299.0 360.2 L300.5 358.3 L302.3 359.8 L303.4 356.5 L305.3 359.3 L306.4 355.5 L307.9 356.3 L309.3 353.6 L311.3 354.9 L312.9 352.4 L313.7 352.1 L315.5 351.1 L316.4 354.9 L318.3 353.0 L319.3 351.8 L321.1 353.5 L322.6 349.3 L323.7 349.6 L325.2 346.7 L326.9 349.3 L328.5 347.9 L329.8 345.5 L331.1 345.6 L333.1 345.8 L334.2 342.2 L335.8 342.5 L338.2 341.0 L340.1 344.1 L340.8 341.6 L342.1 342.3 L343.1 339.1 L344.5 338.8 L344.9 335.2 L346.2 336.7 L347.9 333.7 L349.1 333.0 L350.1 334.6 L351.4 338.6 L353.3 337.3 L353.9 340.8 L354.7 342.5 L355.9 341.1 L356.8 344.4 L358.4 340.9 L359.4 342.3 L361.1 338.2 L362.4 339.2 L364.0 336.3 L366.0 339.1 L368.0 338.2 L369.2 337.2 L370.8 336.9 L372.3 333.1 L374.0 333.4 L375.4 334.3 L376.8 330.5 L378.3 329.7 L380.1 330.5 L381.8 328.3 L383.4 329.7 L384.9 326.6 L385.6 329.3 L387.2 328.6 L387.5 330.5 L389.0 331.4 L389.5 333.2 L390.7 337.0 L392.1 335.3 L392.7 337.4 L394.8 339.1 L396.6 334.9 L397.9 335.7 L399.9 333.1 L400.6 331.3 L401.5 329.3 L402.7 330.9 L403.7 327.1 L405.7 326.2 L407.5 327.5 L408.8 323.2 L410.8 325.0 L412.4 322.5 L414.0 323.4 L415.8 324.4 L417.2 323.8 L419.1 324.3 L420.6 322.2 L422.0 322.3 L424.1 320.7 L426.0 321.8 L428.0 318.0 L429.0 318.6 L430.0 320.5 L431.3 324.8 L433.5 324.4 L434.5 321.7 L435.8 322.8 L436.6 319.3 L438.4 320.0 L439.4 320.9 L440.5 318.6 L442.1 315.7 L443.2 316.6 L444.7 317.6 L446.4 315.9 L447.9 318.4 L449.7 316.2 L451.2 316.9 L452.9 313.5 L454.6 317.0 L456.4 316.0 L458.1 317.6 L459.7 319.0 L461.4 317.2 L462.7 321.5 L464.8 318.5 L466.0 316.4 L468.1 316.4 L469.9 318.0 L471.7 316.8 L473.2 313.4 L474.9 312.3 L476.2 317.0 L478.2 314.2 L479.7 317.9 L481.4 315.3 L482.9 318.4 L484.6 317.5 L486.4 318.6 L488.0 317.6 L489.7 319.4 L491.4 317.9 L493.1 319.9 L493.7 319.0 L495.1 316.0 L495.6 315.4 L497.4 312.4 L498.3 311.7 L499.1 312.3 L500.7 308.9 L501.3 309.0 L503.2 309.1 L504.8 308.3 L506.6 304.8 L508.3 304.9 L509.2 302.8 L511.0 304.3 L512.8 301.3 L513.9 301.7 L516.0 300.2 L518.1 303.6 L520.0 301.7 L521.6 298.5 L523.3 301.4 L524.5 299.6 L526.3 298.0 L528.0 298.1 L530.0 295.7 L532.0 298.2 L533.5 296.4 L535.4 299.0 L537.2 298.1 L538.8 297.8 L540.4 297.9 L542.1 300.1 L542.9 297.1 L544.5 299.4 L545.3 294.6 L546.8 295.7 L547.9 292.5 L549.9 294.6 L550.4 288.9 L552.4 290.8 L553.8 287.7 L555.0 288.6 L556.1 283.9 L557.7 285.4 L559.7 283.0 L560.0 282.8 L561.7 280.3 L563.1 280.9 L564.4 278.1 L565.2 277.6 L567.1 275.5 L568.0 275.4 L569.7 273.3 L571.3 276.0 L573.2 275.1 L574.7 272.7 L576.3 271.5 L578.0 273.0 L579.7 273.0 L581.4 273.2 L583.2 275.2 L584.5 274.3 L586.2 278.1 L587.8 276.7 L589.6 278.5 L591.2 277.1 L593.0 277.1 L594.3 275.7 L595.4 275.6 L596.4 274.7 L596.8 269.8 L598.0 270.4 L598.9 269.9 L600.5 270.1 L601.5 274.6 L601.9 274.0 L603.1 277.7 L604.2 276.5 L604.9 280.8 L606.4 281.1 L606.6 277.8 L606.8 278.9 L607.8 275.4 L607.8 275.1 L608.1 274.5 L609.2 270.2 L610.1 270.8 L610.0 267.2 L610.7 265.6 L611.7 266.8 L612.8 264.4 L613.5 261.2 L615.6 264.2 L616.9 263.0 L617.6 264.8 L620.0 266.5 L622.0 264.7 L623.8 265.5 L624.5 261.7 L625.9 260.0 L627.1 257.7 L628.4 259.9 L629.9 256.9 L631.6 259.9 L633.3 259.7 L635.1 258.0 L636.2 259.5 L637.3 258.4 L637.7 253.4 L639.4 253.9 L640.0 253.2 L641.5 250.0 L642.8 250.7 L643.6 250.1 L644.5 245.4 L646.5 247.9 L646.8 244.7 L648.7 242.6 L649.8 242.7 L651.4 240.4 L652.6 242.1 L653.1 238.0 L654.7 238.5 L656.1 238.1 L657.4 237.2 L658.5 240.8 L660.4 240.3 L660.8 241.4 L662.4 241.0 L663.8 236.3 L664.6 235.5 L666.6 236.8 L668.4 234.8 L670.1 236.8 L672.1 233.5 L674.0 235.5 L675.1 235.5 L675.6 231.6 L676.9 230.5 L678.4 231.2 L679.6 227.2 L680.6 228.8 L681.9 226.2 L682.7 227.7 L684.0 223.2 L685.0 225.4 L685.6 220.9 L687.3 222.2 L688.3 219.2 L688.8 219.7 L689.5 216.2 L691.2 217.9 L691.9 213.0 L693.5 215.6 L694.1 211.3 L695.4 212.8 L697.1 208.6 L699.1 210.3 L700.0 210.3 L702.0 213.9 L703.2 213.2 L703.7 216.9 L704.8 216.3 L706.4 219.1 L707.2 219.3 L709.2 221.2 L710.9 219.1 L713.1 217.7 L714.9 218.5 L716.5 215.0 L718.4 217.3 L720.2 215.7 L721.2 213.4 L721.5 213.7 L722.5 209.0 L723.7 208.8 L725.2 209.6 L725.9 206.9 L726.6 208.0 L727.6 203.9 L730.1 203.2 L732.0 206.3 L733.5 205.7 L734.8 202.2 L735.2 202.5 L735.7 198.1 L736.9 199.2 L737.7 194.6 L738.6 194.7 L738.8 193.8 L740.6 191.2 L742.0 192.1 L742.9 189.5 L745.0 192.2 L747.2 191.2 L748.9 193.2 L750.9 190.3 L752.0 186.2 L753.7 189.2 L754.7 187.0 L756.7 187.5 L758.3 183.9 L760.0 185.9 L761.9 186.0 L763.9 182.6 L765.5 186.2 L766.9 186.6 L768.5 188.1 L769.0 182.8 L770.1 185.4 L771.2 181.8 L772.0 183.0 L773.5 179.4 L774.5 179.6 L775.7 176.5 L777.6 176.4 L778.8 177.6 L780.1 176.5 L781.0 172.1 L783.1 173.4 L785.0 175.2 L786.5 170.6 L788.2 173.4 L789.9 171.6 L792.2 169.1 L794.1 169.5 L795.7 170.7 L797.5 168.7 L799.1 169.6 L800.7 166.9 L802.3 171.0 L803.9 169.2 L805.8 168.4 L807.4 172.9 L809.2 171.2 L810.6 171.8 L812.1 167.2 L813.8 169.1 L815.6 167.7 L816.4 164.6 L817.3 166.4 L819.4 165.1 L819.9 168.0 L821.0 170.8 L822.2 168.3 L823.0 172.5 L824.3 171.0 L823.8 174.0 L824.5 178.0 L826.1 177.5 L826.7 178.8 L827.4 182.5 L829.0 179.7 L831.0 180.7 L832.6 179.6 L833.6 183.9 L835.3 183.1 L836.6 184.5 L838.1 182.6 L839.1 179.8 L840.5 180.9 L841.3 176.2 L842.3 178.2 L843.6 174.2 L845.9 177.5 L848.1 175.7 L850.3 178.5 L851.8 180.1 L853.1 175.7 L854.2 178.2 L854.5 172.5 L855.9 172.5 L857.1 172.4 L858.6 170.2 L860.3 172.1 L862.0 170.4 L863.3 168.4 L864.9 171.3 L866.1 166.5 L867.3 166.5 L868.6 168.0 L870.5 167.1 L871.9 163.2 L873.6 164.4 L875.3 161.3 L877.0 162.6 L878.7 160.8 L880.2 161.6 L881.9 159.1 L883.0 162.9 L884.6 161.4 L886.2 163.5 L887.2 162.8 L887.0 161.5 L888.3 157.0 L889.1 156.6 L891.1 154.2 L892.8 158.2 L894.7 154.4 L896.4 155.6 L898.0 153.5 L899.2 150.6 L899.4 153.3 L900.5 148.6 L900.8 148.6 L902.2 145.6 L902.6 143.8 L904.0 144.3 L905.0 149.8 L906.1 147.6 L906.7 149.1 L908.1 151.1 L909.6 147.3 L911.0 146.5 L911.8 146.2 L913.7 145.6 L914.1 150.2 L916.2 147.9 L916.9 153.2 L917.8 151.2 L919.0 156.7 L919.5 155.5 L920.8 158.4 L922.2 159.1 L923.1 154.5 L924.8 156.0 L925.6 152.7 L927.3 150.9 L928.4 150.2 L929.4 152.2 L931.1 149.5 L932.6 150.6 L934.4 149.1 L936.0 148.0 L938.1 150.7 L940.3 151.1 L941.8 148.6 L943.3 153.7 L945.0 152.5 L945.8 148.0 L947.2 150.4 L948.3 145.6 L950.0 147.1 L951.6 143.5 L953.3 143.9 L954.8 140.7 L957.1 141.3 L958.4 143.6 L958.8 137.6 L959.8 139.2 L960.5 136.0 L963.2 137.8 L964.9 134.5 L966.5 135.6 L967.0 129.3 L968.1 130.7 L970.0 127.7 L970.9 125.9 L971.9 126.0 L974.4 125.4 L976.9 127.4 L978.7 124.6 L981.0 126.3 L982.2 124.4 L983.6 129.1 L985.6 129.0 L986.8 129.3 L987.0 133.5 L987.5 131.5 L988.9 134.9 L988.6 135.0 L988.8 138.4 L990.5 139.9 L990.4 138.9 L990.9 143.5 L992.1 143.5 L992.5 146.5 L994.8 145.7" fill="none" stroke="#9bc353" stroke-width="5.2" stroke-linejoin="round" stroke-linecap="butt"/>
</g>
<text y="30.8" font-size="32.4" font-weight="bold" fill="#000"><tspan x="316.5" textLength="85.0" lengthAdjust="spacingAndGlyphs">Asset</tspan> <tspan x="408.5" textLength="201.8" lengthAdjust="spacingAndGlyphs">Performance</tspan> <tspan x="617.0" textLength="62.0" lengthAdjust="spacingAndGlyphs">This</tspan> <tspan x="685.7" textLength="121.4" lengthAdjust="spacingAndGlyphs">Century</tspan></text>
<line x1="319.8" x2="358.5" y1="62.7" y2="62.7" stroke="#4f84c4" stroke-width="4.6" stroke-linecap="round"/>
<text y="67.7" font-size="17.6" fill="#141414"><tspan x="363.7" textLength="43.0" lengthAdjust="spacingAndGlyphs">Total</tspan> <tspan x="409.8" textLength="45.8" lengthAdjust="spacingAndGlyphs">Stock</tspan></text>
<line x1="485.3" x2="522.7" y1="62.7" y2="62.7" stroke="#c94b49" stroke-width="4.6" stroke-linecap="round"/>
<text y="67.7" font-size="17.6" fill="#141414"><tspan x="528.7" textLength="43.0" lengthAdjust="spacingAndGlyphs">Total</tspan> <tspan x="575.8" textLength="32.8" lengthAdjust="spacingAndGlyphs">Int'l</tspan> <tspan x="612.3" textLength="45.8" lengthAdjust="spacingAndGlyphs">Stock</tspan></text>
<line x1="687.0" x2="725.2" y1="62.7" y2="62.7" stroke="#9bc256" stroke-width="4.6" stroke-linecap="round"/>
<text y="67.7" font-size="17.6" fill="#141414"><tspan x="730.8" textLength="42.2" lengthAdjust="spacingAndGlyphs">Total</tspan> <tspan x="777.2" textLength="43.9" lengthAdjust="spacingAndGlyphs">Bond</tspan></text>
<text y="643.4" font-size="19.6" fill="#141414"><tspan x="161.9" textLength="72.2" lengthAdjust="spacingAndGlyphs">Source:</tspan> <tspan x="237.0" textLength="57.5" lengthAdjust="spacingAndGlyphs">Yahoo</tspan> <tspan x="301.4" textLength="79.0" lengthAdjust="spacingAndGlyphs">Finance,</tspan> <tspan x="384.3" textLength="55.4" lengthAdjust="spacingAndGlyphs">Funds</tspan> <tspan x="442.8" textLength="9.3" lengthAdjust="spacingAndGlyphs">-</tspan> <tspan x="456.7" textLength="70.0" lengthAdjust="spacingAndGlyphs">VTSMX,</tspan> <tspan x="531.7" textLength="67.4" lengthAdjust="spacingAndGlyphs">VGTSX,</tspan> <tspan x="602.3" textLength="33.8" lengthAdjust="spacingAndGlyphs">and</tspan> <tspan x="642.5" textLength="66.3" lengthAdjust="spacingAndGlyphs">VBMFX</tspan></text>
</svg></body></html>
